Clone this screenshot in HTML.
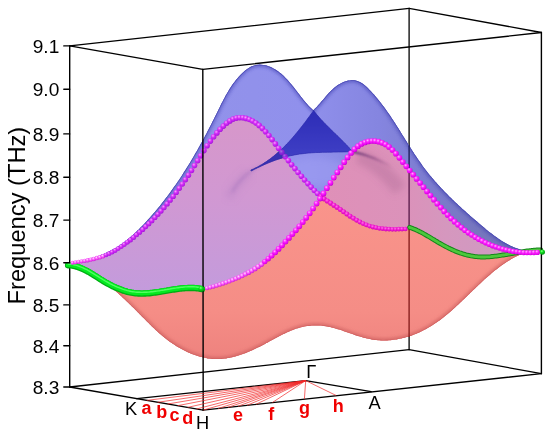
<!DOCTYPE html>
<html><head><meta charset="utf-8"><title>Phonon dispersion</title>
<style>
html,body{margin:0;padding:0;background:#fff}
svg{display:block}
text{font-family:"Liberation Sans",Arial,sans-serif}
</style></head><body>
<svg width="550" height="436" viewBox="0 0 550 436">
<defs>
<radialGradient id="ms" cx="0.38" cy="0.32" r="0.75"><stop offset="0" stop-color="#ffb8ff"/><stop offset="0.35" stop-color="#ff28ff"/><stop offset="0.8" stop-color="#e000ea"/><stop offset="1" stop-color="#b000c0"/></radialGradient>
<radialGradient id="mv" cx="0.38" cy="0.32" r="0.75"><stop offset="0" stop-color="#f8a0ff"/><stop offset="0.4" stop-color="#d630f6"/><stop offset="0.8" stop-color="#b418e6"/><stop offset="1" stop-color="#9010cc"/></radialGradient>
<radialGradient id="mw" cx="0.4" cy="0.35" r="0.7"><stop offset="0" stop-color="#ffd8ff"/><stop offset="0.5" stop-color="#fa50fa"/><stop offset="1" stop-color="#c414d0"/></radialGradient>
<radialGradient id="mp" cx="0.4" cy="0.35" r="0.75"><stop offset="0" stop-color="#ff70e8"/><stop offset="0.45" stop-color="#f018d0"/><stop offset="1" stop-color="#c000a8"/></radialGradient>
<radialGradient id="gs" cx="0.38" cy="0.32" r="0.7"><stop offset="0" stop-color="#8cff8c"/><stop offset="0.4" stop-color="#10e020"/><stop offset="1" stop-color="#009010"/></radialGradient>
<linearGradient id="gBlue" gradientUnits="userSpaceOnUse" x1="70" y1="0" x2="545" y2="0"><stop offset="0" stop-color="#9894e6"/><stop offset="0.27" stop-color="#9292ea"/><stop offset="0.5" stop-color="#9090ec"/><stop offset="0.65" stop-color="#8585e0"/><stop offset="0.76" stop-color="#7c7cce"/><stop offset="0.86" stop-color="#7676be"/><stop offset="1" stop-color="#7474b6"/></linearGradient>
<linearGradient id="gPurple" gradientUnits="userSpaceOnUse" x1="0" y1="117" x2="0" y2="293"><stop offset="0" stop-color="#d797ca"/><stop offset="0.45" stop-color="#d198d2"/><stop offset="1" stop-color="#c39bdc"/></linearGradient>
<linearGradient id="gPink" gradientUnits="userSpaceOnUse" x1="320" y1="0" x2="530" y2="0"><stop offset="0" stop-color="#df90b8"/><stop offset="0.42" stop-color="#db92ba"/><stop offset="0.6" stop-color="#d597be"/><stop offset="1" stop-color="#cc9bc3"/></linearGradient>
<linearGradient id="gRed" gradientUnits="userSpaceOnUse" x1="0" y1="200" x2="0" y2="360"><stop offset="0" stop-color="#f9948b"/><stop offset="0.7" stop-color="#f58d86"/><stop offset="1" stop-color="#ee827e"/></linearGradient>
<linearGradient id="gDark" gradientUnits="userSpaceOnUse" x1="0" y1="110" x2="0" y2="160"><stop offset="0" stop-color="#3030ba"/><stop offset="0.6" stop-color="#4444cc"/><stop offset="1" stop-color="#5252d4"/></linearGradient>
<linearGradient id="gCrease" gradientUnits="userSpaceOnUse" x1="352" y1="0" x2="393" y2="0"><stop offset="0" stop-color="#4a2068" stop-opacity="0.85"/><stop offset="0.5" stop-color="#6a3070" stop-opacity="0.55"/><stop offset="1" stop-color="#8a4878" stop-opacity="0"/></linearGradient>
<filter id="b1" x="-20%" y="-50%" width="140%" height="200%"><feGaussianBlur stdDeviation="0.8"/></filter>
<filter id="b2" x="-20%" y="-20%" width="140%" height="140%"><feGaussianBlur stdDeviation="1.6"/></filter>
<filter id="b4" x="-30%" y="-30%" width="160%" height="160%"><feGaussianBlur stdDeviation="3.5"/></filter>
<filter id="b8" x="-30%" y="-30%" width="160%" height="160%"><feGaussianBlur stdDeviation="8"/></filter>

<clipPath id="cBlue"><path d="M68.5,263.5 L70.2,263.1 L71.9,262.6 L73.6,262.2 L75.3,261.8 L77.1,261.4 L78.8,261.0 L80.6,260.6 L82.4,260.2 L84.2,259.8 L85.9,259.4 L87.7,258.9 L89.5,258.5 L91.3,258.0 L93.0,257.5 L94.8,257.0 L96.5,256.4 L98.3,255.9 L100.0,255.3 L101.7,254.6 L103.4,254.0 L105.1,253.3 L106.7,252.5 L108.4,251.8 L110.0,251.0 L111.6,250.1 L113.1,249.3 L114.7,248.4 L116.2,247.5 L117.8,246.5 L119.3,245.5 L120.7,244.5 L122.2,243.5 L123.7,242.4 L125.1,241.3 L126.5,240.2 L128.0,239.1 L129.3,237.9 L130.7,236.8 L132.1,235.6 L133.5,234.4 L134.8,233.1 L136.1,231.9 L137.4,230.6 L138.8,229.4 L140.0,228.1 L141.3,226.8 L142.6,225.5 L143.9,224.2 L145.1,222.8 L146.4,221.5 L147.6,220.1 L148.8,218.8 L150.0,217.4 L151.2,216.1 L152.4,214.7 L153.6,213.3 L154.8,211.9 L156.0,210.6 L157.1,209.2 L158.3,207.8 L159.4,206.4 L160.6,205.0 L161.7,203.5 L162.8,202.1 L163.9,200.7 L165.0,199.3 L166.1,197.8 L167.2,196.4 L168.3,194.9 L169.4,193.5 L170.5,192.0 L171.5,190.6 L172.6,189.1 L173.6,187.6 L174.7,186.1 L175.7,184.7 L176.7,183.2 L177.7,181.7 L178.8,180.2 L179.8,178.7 L180.8,177.2 L181.8,175.7 L182.7,174.2 L183.7,172.6 L184.7,171.1 L185.7,169.6 L186.6,168.1 L187.6,166.5 L188.5,165.0 L189.5,163.4 L190.4,161.9 L191.4,160.3 L192.3,158.8 L193.2,157.2 L194.1,155.7 L195.0,154.1 L195.9,152.5 L196.9,151.0 L197.7,149.4 L198.6,147.8 L199.5,146.2 L200.4,144.6 L201.3,143.0 L202.2,141.5 L203.0,139.9 L203.9,138.3 L204.7,136.7 L205.6,135.1 L206.5,133.4 L207.3,131.8 L208.1,130.2 L209.0,128.6 L209.8,127.0 L210.6,125.4 L211.5,123.7 L212.3,122.1 L213.1,120.5 L213.9,118.9 L214.7,117.2 L215.6,115.6 L216.4,113.9 L217.2,112.3 L218.0,110.7 L218.8,109.0 L219.6,107.4 L220.4,105.8 L221.2,104.1 L222.0,102.5 L222.9,100.9 L223.7,99.3 L224.6,97.7 L225.4,96.1 L226.3,94.5 L227.2,92.9 L228.1,91.4 L229.1,89.8 L230.0,88.3 L231.0,86.8 L232.0,85.3 L233.0,83.8 L234.1,82.4 L235.2,81.0 L236.3,79.6 L237.5,78.2 L238.7,76.8 L239.9,75.5 L241.1,74.2 L242.4,72.9 L243.8,71.7 L245.1,70.5 L246.5,69.4 L248.0,68.4 L249.5,67.4 L251.1,66.6 L252.7,65.9 L254.3,65.4 L256.0,65.0 L257.8,64.7 L259.6,64.6 L261.4,64.7 L263.2,64.9 L265.0,65.2 L266.7,65.6 L268.4,66.2 L270.1,66.8 L271.8,67.6 L273.4,68.4 L275.0,69.3 L276.5,70.3 L278.1,71.3 L279.5,72.4 L281.0,73.6 L282.4,74.8 L283.8,76.1 L285.1,77.4 L286.4,78.7 L287.7,80.1 L288.9,81.5 L290.1,82.9 L291.3,84.3 L292.5,85.7 L293.6,87.1 L294.7,88.5 L295.8,89.9 L296.9,91.3 L297.9,92.7 L299.0,94.1 L300.1,95.5 L301.2,96.9 L302.3,98.3 L303.4,99.7 L304.5,101.1 L305.7,102.5 L306.9,103.8 L308.1,105.2 L309.3,106.5 L310.6,107.8 L312.0,109.1 L313.4,110.4 L313.4,110.2 L314.5,109.1 L315.6,108.0 L316.7,106.9 L317.7,105.7 L318.8,104.6 L319.8,103.4 L320.8,102.2 L321.8,101.1 L322.8,99.9 L323.9,98.7 L324.9,97.5 L325.9,96.2 L327.0,95.0 L328.1,93.8 L329.2,92.6 L330.3,91.4 L331.5,90.3 L332.7,89.2 L333.9,88.1 L335.2,87.0 L336.5,86.0 L337.8,85.1 L339.2,84.2 L340.6,83.4 L342.0,82.7 L343.5,82.0 L345.0,81.4 L346.6,81.0 L348.1,80.6 L349.7,80.4 L351.2,80.2 L352.8,80.2 L354.3,80.3 L355.8,80.6 L357.2,81.0 L358.6,81.5 L359.9,82.1 L361.2,82.8 L362.5,83.6 L363.8,84.5 L365.0,85.5 L366.2,86.5 L367.3,87.6 L368.5,88.7 L369.6,89.9 L370.7,91.0 L371.8,92.2 L372.9,93.4 L374.0,94.6 L375.0,95.8 L376.0,97.0 L377.1,98.2 L378.1,99.5 L379.1,100.7 L380.1,101.9 L381.1,103.2 L382.0,104.5 L383.0,105.7 L384.0,107.0 L384.9,108.3 L385.8,109.6 L386.8,110.9 L387.7,112.2 L388.6,113.5 L389.5,114.8 L390.4,116.1 L391.3,117.4 L392.1,118.8 L393.0,120.1 L393.9,121.4 L394.8,122.8 L395.6,124.1 L396.5,125.4 L397.3,126.8 L398.2,128.1 L399.0,129.5 L399.9,130.8 L400.7,132.2 L401.5,133.5 L402.4,134.9 L403.2,136.2 L404.1,137.6 L404.9,138.9 L405.7,140.3 L406.6,141.6 L407.4,143.0 L408.3,144.3 L409.1,145.7 L410.0,147.0 L410.8,148.3 L411.7,149.7 L412.5,151.0 L413.4,152.3 L414.2,153.7 L415.1,155.0 L416.0,156.3 L416.9,157.6 L417.8,158.9 L418.7,160.2 L419.6,161.5 L420.5,162.8 L421.4,164.1 L422.3,165.4 L423.2,166.7 L424.2,167.9 L425.1,169.2 L426.1,170.4 L427.1,171.7 L428.0,172.9 L429.0,174.2 L430.0,175.4 L431.0,176.6 L432.0,177.8 L433.1,179.0 L434.1,180.2 L435.1,181.4 L436.2,182.6 L437.2,183.8 L438.3,184.9 L439.3,186.1 L440.4,187.3 L441.5,188.4 L442.6,189.6 L443.7,190.7 L444.8,191.9 L445.9,193.0 L447.0,194.1 L448.1,195.2 L449.2,196.4 L450.4,197.5 L451.5,198.6 L452.6,199.7 L453.8,200.8 L454.9,201.9 L456.1,203.0 L457.3,204.1 L458.4,205.2 L459.6,206.3 L460.8,207.3 L461.9,208.4 L463.1,209.5 L464.3,210.6 L465.5,211.6 L466.7,212.7 L467.9,213.7 L469.1,214.8 L470.3,215.9 L471.5,216.9 L472.7,218.0 L473.9,219.0 L475.1,220.1 L476.3,221.1 L477.6,222.1 L478.8,223.2 L480.0,224.2 L481.2,225.2 L482.4,226.3 L483.7,227.3 L484.9,228.3 L486.1,229.4 L487.4,230.4 L488.6,231.4 L489.9,232.4 L491.1,233.3 L492.4,234.3 L493.6,235.3 L494.9,236.2 L496.2,237.1 L497.5,238.0 L498.8,238.9 L500.1,239.8 L501.4,240.7 L502.7,241.5 L504.0,242.3 L505.4,243.1 L506.7,243.8 L508.1,244.6 L509.5,245.3 L510.9,245.9 L512.3,246.6 L513.7,247.2 L515.1,247.8 L516.6,248.3 L518.1,248.8 L519.5,249.3 L521.0,249.8 L522.6,250.2 L524.1,250.5 L525.6,250.8 L527.2,251.1 L528.8,251.4 L530.4,251.5 L532.0,251.7 L533.7,251.8 L535.3,251.8 L537.0,251.9 L538.7,251.8 L540.5,251.7 L542.2,251.6 L539.2,252.2 L538.1,252.3 L536.9,252.4 L535.8,252.5 L534.7,252.6 L533.6,252.6 L532.4,252.7 L531.3,252.7 L530.2,252.7 L529.1,252.7 L528.0,252.7 L526.8,252.7 L525.7,252.7 L524.6,252.6 L523.5,252.6 L522.4,252.5 L521.3,252.4 L520.2,252.3 L519.1,252.2 L518.0,252.1 L516.9,252.0 L515.8,251.8 L514.7,251.6 L513.6,251.5 L512.5,251.3 L511.4,251.1 L510.3,250.9 L509.2,250.7 L508.2,250.4 L507.1,250.2 L506.0,249.9 L504.9,249.7 L503.9,249.4 L502.8,249.1 L501.7,248.8 L500.7,248.5 L499.6,248.1 L498.6,247.8 L497.5,247.5 L496.5,247.1 L495.4,246.7 L494.4,246.4 L493.4,246.0 L492.3,245.6 L491.3,245.2 L490.3,244.7 L489.3,244.3 L488.2,243.9 L487.2,243.4 L486.2,243.0 L485.2,242.5 L484.2,242.0 L483.2,241.5 L482.2,241.0 L481.3,240.5 L480.3,240.0 L479.3,239.5 L478.3,238.9 L477.4,238.4 L476.4,237.8 L475.4,237.3 L474.5,236.7 L473.6,236.1 L472.6,235.5 L471.7,234.9 L470.7,234.3 L469.8,233.7 L468.9,233.1 L468.0,232.4 L467.1,231.8 L466.2,231.1 L465.3,230.5 L464.4,229.8 L463.5,229.2 L462.6,228.5 L461.7,227.8 L460.9,227.1 L460.0,226.4 L459.2,225.7 L458.3,225.0 L457.5,224.2 L456.6,223.5 L455.8,222.8 L455.0,222.0 L454.2,221.3 L453.3,220.5 L452.5,219.8 L451.7,219.0 L450.9,218.2 L450.1,217.5 L449.3,216.7 L448.6,215.9 L447.8,215.1 L447.0,214.3 L446.2,213.5 L445.5,212.7 L444.7,211.9 L443.9,211.1 L443.2,210.2 L442.4,209.4 L441.7,208.6 L440.9,207.8 L440.2,206.9 L439.4,206.1 L438.7,205.3 L438.0,204.4 L437.3,203.6 L436.5,202.8 L435.8,201.9 L435.1,201.1 L434.4,200.2 L433.6,199.4 L432.9,198.5 L432.2,197.7 L431.5,196.8 L430.8,196.0 L430.1,195.1 L429.4,194.3 L428.7,193.4 L428.0,192.6 L427.3,191.7 L426.6,190.9 L425.9,190.0 L425.2,189.2 L424.5,188.3 L423.8,187.5 L423.1,186.6 L422.4,185.8 L421.7,184.9 L421.0,184.1 L420.3,183.2 L419.6,182.4 L418.9,181.6 L418.2,180.7 L417.5,179.9 L416.8,179.0 L416.1,178.2 L415.4,177.4 L414.7,176.5 L414.0,175.7 L413.3,174.8 L412.6,174.0 L411.9,173.2 L411.2,172.3 L410.5,171.5 L409.8,170.6 L409.1,169.8 L408.4,168.9 L407.7,168.0 L407.0,167.2 L406.3,166.3 L405.6,165.4 L404.9,164.6 L404.1,163.7 L403.4,162.8 L402.7,161.9 L402.0,161.0 L401.3,160.1 L400.5,159.2 L399.8,158.3 L399.1,157.4 L398.4,156.5 L397.6,155.6 L396.9,154.7 L396.1,153.9 L395.3,153.0 L394.6,152.1 L393.8,151.3 L393.0,150.5 L392.2,149.7 L391.4,148.9 L390.5,148.2 L389.7,147.5 L388.8,146.8 L388.0,146.1 L387.1,145.5 L386.2,144.9 L385.3,144.3 L384.3,143.8 L383.3,143.3 L382.4,142.9 L381.4,142.5 L380.3,142.1 L379.3,141.8 L378.3,141.6 L377.2,141.4 L376.1,141.2 L375.1,141.1 L374.0,141.0 L372.9,141.0 L371.8,141.0 L370.8,141.1 L369.7,141.2 L368.6,141.4 L367.6,141.6 L366.6,141.8 L365.6,142.1 L364.6,142.5 L363.6,142.9 L362.7,143.3 L361.7,143.8 L360.8,144.3 L359.9,144.9 L359.0,145.5 L358.2,146.1 L357.3,146.7 L356.5,147.4 L355.7,148.1 L354.9,148.9 L354.1,149.7 L353.3,150.5 L352.6,151.3 L351.8,152.1 L351.1,153.0 L350.4,153.9 L349.7,154.8 L348.9,155.7 L348.3,156.6 L347.6,157.5 L346.9,158.4 L346.2,159.4 L345.5,160.3 L344.9,161.3 L344.2,162.2 L343.5,163.2 L342.9,164.1 L342.2,165.1 L341.6,166.0 L340.9,167.0 L340.3,167.9 L339.7,168.8 L339.0,169.8 L338.4,170.7 L337.8,171.7 L337.2,172.6 L336.5,173.6 L335.9,174.5 L335.3,175.4 L334.7,176.4 L334.1,177.3 L333.4,178.2 L332.8,179.2 L332.2,180.1 L331.6,181.0 L331.0,182.0 L330.4,182.9 L329.8,183.8 L329.2,184.7 L328.6,185.7 L328.0,186.6 L327.4,187.5 L326.8,188.4 L326.2,189.4 L325.6,190.3 L325.0,191.2 L324.4,192.1 L323.8,193.0 L323.2,193.9 L322.5,194.9 L321.9,195.8 L321.3,196.7 L321.5,196.9 L320.7,196.2 L319.8,195.5 L319.0,194.7 L318.1,194.0 L317.3,193.2 L316.4,192.5 L315.6,191.7 L314.8,190.9 L314.0,190.1 L313.2,189.3 L312.4,188.5 L311.6,187.7 L310.8,186.8 L310.1,186.0 L309.3,185.2 L308.5,184.4 L307.8,183.5 L307.0,182.7 L306.3,181.9 L305.5,181.0 L304.8,180.2 L304.1,179.4 L303.3,178.5 L302.6,177.7 L301.9,176.9 L301.2,176.1 L300.4,175.2 L299.7,174.4 L299.0,173.6 L298.3,172.7 L297.6,171.9 L296.9,171.1 L296.2,170.2 L295.5,169.4 L294.8,168.6 L294.1,167.7 L293.4,166.9 L292.7,166.0 L292.0,165.2 L291.3,164.3 L290.6,163.5 L290.0,162.7 L289.3,161.8 L288.6,160.9 L287.9,160.1 L287.2,159.2 L286.5,158.4 L285.9,157.5 L285.2,156.6 L284.5,155.8 L283.8,154.9 L283.1,154.0 L282.4,153.1 L281.7,152.2 L281.1,151.4 L280.4,150.5 L279.7,149.6 L279.0,148.7 L278.3,147.8 L277.6,146.9 L276.9,145.9 L276.2,145.0 L275.5,144.1 L274.8,143.2 L274.1,142.2 L273.4,141.3 L272.7,140.4 L272.0,139.5 L271.3,138.5 L270.5,137.6 L269.8,136.7 L269.1,135.8 L268.3,134.9 L267.6,134.0 L266.8,133.1 L266.1,132.3 L265.3,131.4 L264.5,130.6 L263.7,129.8 L262.9,128.9 L262.1,128.2 L261.3,127.4 L260.5,126.6 L259.7,125.9 L258.8,125.2 L258.0,124.5 L257.1,123.8 L256.2,123.2 L255.3,122.6 L254.4,122.0 L253.5,121.5 L252.6,121.0 L251.7,120.5 L250.7,120.0 L249.7,119.6 L248.8,119.2 L247.8,118.9 L246.7,118.6 L245.7,118.3 L244.7,118.1 L243.6,117.9 L242.6,117.8 L241.5,117.7 L240.5,117.7 L239.4,117.7 L238.4,117.8 L237.3,117.9 L236.3,118.1 L235.3,118.4 L234.3,118.7 L233.3,119.1 L232.3,119.5 L231.4,120.0 L230.4,120.5 L229.5,121.1 L228.6,121.7 L227.7,122.4 L226.8,123.1 L225.9,123.8 L225.0,124.5 L224.2,125.3 L223.3,126.1 L222.5,126.9 L221.7,127.7 L220.9,128.5 L220.1,129.3 L219.3,130.1 L218.5,131.0 L217.8,131.8 L217.0,132.7 L216.3,133.5 L215.6,134.4 L214.8,135.2 L214.1,136.1 L213.4,137.0 L212.7,137.9 L212.1,138.8 L211.4,139.7 L210.7,140.6 L210.1,141.5 L209.4,142.4 L208.8,143.3 L208.1,144.2 L207.5,145.1 L206.8,146.1 L206.2,147.0 L205.6,147.9 L205.0,148.8 L204.4,149.8 L203.8,150.7 L203.2,151.7 L202.6,152.6 L202.0,153.6 L201.4,154.5 L200.8,155.5 L200.2,156.4 L199.6,157.4 L199.0,158.3 L198.4,159.3 L197.8,160.2 L197.3,161.2 L196.7,162.1 L196.1,163.1 L195.5,164.0 L194.9,165.0 L194.3,165.9 L193.7,166.9 L193.1,167.8 L192.5,168.8 L191.9,169.7 L191.3,170.7 L190.7,171.6 L190.1,172.5 L189.5,173.5 L188.9,174.4 L188.3,175.4 L187.7,176.3 L187.0,177.2 L186.4,178.1 L185.8,179.1 L185.2,180.0 L184.5,180.9 L183.9,181.8 L183.3,182.7 L182.6,183.7 L182.0,184.6 L181.3,185.5 L180.7,186.4 L180.0,187.3 L179.4,188.2 L178.7,189.1 L178.0,190.0 L177.4,190.9 L176.7,191.8 L176.0,192.7 L175.3,193.6 L174.7,194.4 L174.0,195.3 L173.3,196.2 L172.6,197.1 L171.9,198.0 L171.2,198.8 L170.5,199.7 L169.8,200.6 L169.1,201.4 L168.4,202.3 L167.7,203.2 L167.0,204.0 L166.3,204.9 L165.5,205.7 L164.8,206.6 L164.1,207.4 L163.3,208.2 L162.6,209.1 L161.9,209.9 L161.1,210.8 L160.4,211.6 L159.6,212.4 L158.9,213.2 L158.1,214.1 L157.4,214.9 L156.6,215.7 L155.8,216.5 L155.1,217.3 L154.3,218.1 L153.5,218.9 L152.8,219.7 L152.0,220.5 L151.2,221.3 L150.4,222.1 L149.6,222.9 L148.8,223.6 L148.0,224.4 L147.2,225.2 L146.4,226.0 L145.6,226.7 L144.8,227.5 L144.0,228.2 L143.1,229.0 L142.3,229.8 L141.5,230.5 L140.7,231.2 L139.8,232.0 L139.0,232.7 L138.2,233.5 L137.3,234.2 L136.5,234.9 L135.6,235.6 L134.7,236.4 L133.9,237.1 L133.0,237.8 L132.2,238.5 L131.3,239.2 L130.4,239.9 L129.5,240.6 L128.7,241.3 L127.8,242.0 L126.9,242.6 L126.0,243.3 L125.1,244.0 L124.2,244.6 L123.3,245.3 L122.4,245.9 L121.4,246.5 L120.5,247.2 L119.6,247.8 L118.7,248.4 L117.7,249.0 L116.8,249.5 L115.8,250.1 L114.9,250.7 L113.9,251.2 L112.9,251.8 L111.9,252.3 L111.0,252.8 L110.0,253.3 L109.0,253.8 L108.0,254.2 L106.9,254.7 L105.9,255.1 L104.9,255.5 L103.9,255.9 L102.8,256.3 L101.8,256.7 L100.7,257.0 L99.6,257.4 L98.6,257.7 L97.5,258.0 L96.4,258.3 L95.3,258.6 L94.2,258.8 L93.1,259.1 L92.0,259.4 L90.9,259.6 L89.8,259.8 L88.7,260.0 L87.6,260.3 L86.5,260.5 L85.4,260.7 L84.3,260.9 L83.2,261.1 L82.1,261.3 L81.0,261.4 L79.8,261.6 L78.7,261.8 L77.6,262.0 L76.5,262.1 L75.4,262.3 L74.4,262.5 L73.3,262.7 L72.2,262.9 L71.1,263.0 L70.0,263.2Z"/></clipPath>
<clipPath id="cPurple"><path d="M70.0,263.2 L71.1,263.0 L72.2,262.9 L73.3,262.7 L74.4,262.5 L75.4,262.3 L76.5,262.1 L77.6,262.0 L78.7,261.8 L79.8,261.6 L81.0,261.4 L82.1,261.3 L83.2,261.1 L84.3,260.9 L85.4,260.7 L86.5,260.5 L87.6,260.3 L88.7,260.0 L89.8,259.8 L90.9,259.6 L92.0,259.4 L93.1,259.1 L94.2,258.8 L95.3,258.6 L96.4,258.3 L97.5,258.0 L98.6,257.7 L99.6,257.4 L100.7,257.0 L101.8,256.7 L102.8,256.3 L103.9,255.9 L104.9,255.5 L105.9,255.1 L106.9,254.7 L108.0,254.2 L109.0,253.8 L110.0,253.3 L111.0,252.8 L111.9,252.3 L112.9,251.8 L113.9,251.2 L114.9,250.7 L115.8,250.1 L116.8,249.5 L117.7,249.0 L118.7,248.4 L119.6,247.8 L120.5,247.2 L121.4,246.5 L122.4,245.9 L123.3,245.3 L124.2,244.6 L125.1,244.0 L126.0,243.3 L126.9,242.6 L127.8,242.0 L128.7,241.3 L129.5,240.6 L130.4,239.9 L131.3,239.2 L132.2,238.5 L133.0,237.8 L133.9,237.1 L134.7,236.4 L135.6,235.6 L136.5,234.9 L137.3,234.2 L138.2,233.5 L139.0,232.7 L139.8,232.0 L140.7,231.2 L141.5,230.5 L142.3,229.8 L143.1,229.0 L144.0,228.2 L144.8,227.5 L145.6,226.7 L146.4,226.0 L147.2,225.2 L148.0,224.4 L148.8,223.6 L149.6,222.9 L150.4,222.1 L151.2,221.3 L152.0,220.5 L152.8,219.7 L153.5,218.9 L154.3,218.1 L155.1,217.3 L155.8,216.5 L156.6,215.7 L157.4,214.9 L158.1,214.1 L158.9,213.2 L159.6,212.4 L160.4,211.6 L161.1,210.8 L161.9,209.9 L162.6,209.1 L163.3,208.2 L164.1,207.4 L164.8,206.6 L165.5,205.7 L166.3,204.9 L167.0,204.0 L167.7,203.2 L168.4,202.3 L169.1,201.4 L169.8,200.6 L170.5,199.7 L171.2,198.8 L171.9,198.0 L172.6,197.1 L173.3,196.2 L174.0,195.3 L174.7,194.4 L175.3,193.6 L176.0,192.7 L176.7,191.8 L177.4,190.9 L178.0,190.0 L178.7,189.1 L179.4,188.2 L180.0,187.3 L180.7,186.4 L181.3,185.5 L182.0,184.6 L182.6,183.7 L183.3,182.7 L183.9,181.8 L184.5,180.9 L185.2,180.0 L185.8,179.1 L186.4,178.1 L187.0,177.2 L187.7,176.3 L188.3,175.4 L188.9,174.4 L189.5,173.5 L190.1,172.5 L190.7,171.6 L191.3,170.7 L191.9,169.7 L192.5,168.8 L193.1,167.8 L193.7,166.9 L194.3,165.9 L194.9,165.0 L195.5,164.0 L196.1,163.1 L196.7,162.1 L197.3,161.2 L197.8,160.2 L198.4,159.3 L199.0,158.3 L199.6,157.4 L200.2,156.4 L200.8,155.5 L201.4,154.5 L202.0,153.6 L202.6,152.6 L203.2,151.7 L203.8,150.7 L204.4,149.8 L205.0,148.8 L205.6,147.9 L206.2,147.0 L206.8,146.1 L207.5,145.1 L208.1,144.2 L208.8,143.3 L209.4,142.4 L210.1,141.5 L210.7,140.6 L211.4,139.7 L212.1,138.8 L212.7,137.9 L213.4,137.0 L214.1,136.1 L214.8,135.2 L215.6,134.4 L216.3,133.5 L217.0,132.7 L217.8,131.8 L218.5,131.0 L219.3,130.1 L220.1,129.3 L220.9,128.5 L221.7,127.7 L222.5,126.9 L223.3,126.1 L224.2,125.3 L225.0,124.5 L225.9,123.8 L226.8,123.1 L227.7,122.4 L228.6,121.7 L229.5,121.1 L230.4,120.5 L231.4,120.0 L232.3,119.5 L233.3,119.1 L234.3,118.7 L235.3,118.4 L236.3,118.1 L237.3,117.9 L238.4,117.8 L239.4,117.7 L240.5,117.7 L241.5,117.7 L242.6,117.8 L243.6,117.9 L244.7,118.1 L245.7,118.3 L246.7,118.6 L247.8,118.9 L248.8,119.2 L249.7,119.6 L250.7,120.0 L251.7,120.5 L252.6,121.0 L253.5,121.5 L254.4,122.0 L255.3,122.6 L256.2,123.2 L257.1,123.8 L258.0,124.5 L258.8,125.2 L259.7,125.9 L260.5,126.6 L261.3,127.4 L262.1,128.2 L262.9,128.9 L263.7,129.8 L264.5,130.6 L265.3,131.4 L266.1,132.3 L266.8,133.1 L267.6,134.0 L268.3,134.9 L269.1,135.8 L269.8,136.7 L270.5,137.6 L271.3,138.5 L272.0,139.5 L272.7,140.4 L273.4,141.3 L274.1,142.2 L274.8,143.2 L275.5,144.1 L276.2,145.0 L276.9,145.9 L277.6,146.9 L278.3,147.8 L279.0,148.7 L279.7,149.6 L280.4,150.5 L281.1,151.4 L281.7,152.2 L282.4,153.1 L283.1,154.0 L283.8,154.9 L284.5,155.8 L285.2,156.6 L285.9,157.5 L286.5,158.4 L287.2,159.2 L287.9,160.1 L288.6,160.9 L289.3,161.8 L290.0,162.7 L290.6,163.5 L291.3,164.3 L292.0,165.2 L292.7,166.0 L293.4,166.9 L294.1,167.7 L294.8,168.6 L295.5,169.4 L296.2,170.2 L296.9,171.1 L297.6,171.9 L298.3,172.7 L299.0,173.6 L299.7,174.4 L300.4,175.2 L301.2,176.1 L301.9,176.9 L302.6,177.7 L303.3,178.5 L304.1,179.4 L304.8,180.2 L305.5,181.0 L306.3,181.9 L307.0,182.7 L307.8,183.5 L308.5,184.4 L309.3,185.2 L310.1,186.0 L310.8,186.8 L311.6,187.7 L312.4,188.5 L313.2,189.3 L314.0,190.1 L314.8,190.9 L315.6,191.7 L316.4,192.5 L317.3,193.2 L318.1,194.0 L319.0,194.7 L319.8,195.5 L320.7,196.2 L321.5,196.9 L321.3,196.7 L320.7,197.6 L320.1,198.5 L319.5,199.4 L318.9,200.3 L318.3,201.2 L317.7,202.1 L317.0,203.0 L316.4,203.9 L315.8,204.8 L315.2,205.7 L314.5,206.6 L313.9,207.5 L313.3,208.4 L312.6,209.3 L312.0,210.1 L311.3,211.0 L310.7,211.9 L310.0,212.8 L309.4,213.7 L308.7,214.6 L308.1,215.4 L307.4,216.3 L306.7,217.2 L306.0,218.1 L305.4,218.9 L304.7,219.8 L304.0,220.7 L303.3,221.5 L302.6,222.4 L301.9,223.2 L301.2,224.1 L300.5,225.0 L299.7,225.8 L299.0,226.7 L298.3,227.5 L297.6,228.4 L296.8,229.2 L296.1,230.1 L295.3,230.9 L294.6,231.7 L293.9,232.6 L293.1,233.4 L292.4,234.3 L291.6,235.1 L290.8,235.9 L290.1,236.8 L289.3,237.6 L288.6,238.4 L287.8,239.2 L287.0,240.1 L286.3,240.9 L285.5,241.7 L284.7,242.5 L284.0,243.3 L283.2,244.1 L282.4,244.9 L281.7,245.7 L280.9,246.6 L280.1,247.4 L279.3,248.2 L278.6,248.9 L277.8,249.7 L277.0,250.5 L276.2,251.3 L275.4,252.1 L274.6,252.9 L273.9,253.6 L273.1,254.4 L272.3,255.1 L271.5,255.9 L270.6,256.6 L269.8,257.4 L269.0,258.1 L268.2,258.8 L267.4,259.6 L266.5,260.3 L265.7,261.0 L264.8,261.7 L264.0,262.3 L263.1,263.0 L262.2,263.7 L261.3,264.3 L260.4,265.0 L259.6,265.6 L258.6,266.2 L257.7,266.9 L256.8,267.5 L255.9,268.1 L255.0,268.7 L254.0,269.3 L253.1,269.8 L252.1,270.4 L251.2,271.0 L250.2,271.5 L249.3,272.1 L248.3,272.6 L247.3,273.1 L246.3,273.6 L245.3,274.2 L244.4,274.7 L243.4,275.2 L242.4,275.6 L241.4,276.1 L240.3,276.6 L239.3,277.1 L238.3,277.5 L237.3,278.0 L236.3,278.4 L235.2,278.9 L234.2,279.3 L233.2,279.7 L232.1,280.1 L231.1,280.5 L230.1,280.9 L229.0,281.3 L228.0,281.7 L226.9,282.1 L225.9,282.5 L224.8,282.8 L223.8,283.2 L222.7,283.5 L221.6,283.9 L220.6,284.2 L219.5,284.6 L218.5,284.9 L217.4,285.2 L216.3,285.5 L215.3,285.9 L214.2,286.2 L213.1,286.5 L212.1,286.8 L211.0,287.0 L210.0,287.3 L208.9,287.6 L207.8,287.9 L206.8,288.1 L205.7,288.4 L204.6,288.7 L203.6,288.9 L202.1,289.1 L200.7,288.8 L199.4,288.6 L198.0,288.4 L196.6,288.2 L195.2,288.1 L193.8,288.0 L192.5,288.0 L191.1,288.0 L189.6,288.0 L188.2,288.0 L186.8,288.1 L185.4,288.1 L184.0,288.2 L182.6,288.4 L181.1,288.5 L179.7,288.7 L178.3,288.9 L176.8,289.1 L175.4,289.3 L174.0,289.5 L172.5,289.7 L171.1,289.9 L169.6,290.2 L168.2,290.4 L166.8,290.7 L165.3,290.9 L163.9,291.2 L162.4,291.4 L161.0,291.6 L159.6,291.9 L158.1,292.1 L156.7,292.3 L155.3,292.5 L153.8,292.7 L152.4,292.9 L151.0,293.0 L149.5,293.2 L148.1,293.3 L146.7,293.4 L145.3,293.5 L143.9,293.5 L142.5,293.6 L141.1,293.6 L139.7,293.5 L138.3,293.5 L136.9,293.4 L135.5,293.3 L134.1,293.1 L132.8,292.9 L131.4,292.7 L130.0,292.4 L128.7,292.1 L127.3,291.8 L126.0,291.4 L124.7,291.0 L123.3,290.6 L122.0,290.1 L120.7,289.6 L119.4,289.1 L118.1,288.6 L116.8,288.1 L115.5,287.5 L114.2,286.9 L112.9,286.3 L111.6,285.6 L110.3,285.0 L109.1,284.3 L107.8,283.6 L106.5,282.9 L105.3,282.2 L104.0,281.4 L102.8,280.7 L101.6,279.9 L100.3,279.2 L99.1,278.4 L97.9,277.6 L96.6,276.8 L95.4,276.1 L94.2,275.3 L93.0,274.5 L91.7,273.8 L90.5,273.0 L89.3,272.3 L88.0,271.6 L86.8,270.9 L85.5,270.3 L84.2,269.7 L83.0,269.1 L81.7,268.5 L80.4,268.0 L79.1,267.5 L77.8,267.0 L76.5,266.6 L75.1,266.2 L73.7,265.9 L72.4,265.6 L71.0,265.4 L69.6,265.3 L68.1,265.2Z"/></clipPath>
<clipPath id="cPink"><path d="M321.3,196.7 L321.9,195.8 L322.5,194.9 L323.2,193.9 L323.8,193.0 L324.4,192.1 L325.0,191.2 L325.6,190.3 L326.2,189.4 L326.8,188.4 L327.4,187.5 L328.0,186.6 L328.6,185.7 L329.2,184.7 L329.8,183.8 L330.4,182.9 L331.0,182.0 L331.6,181.0 L332.2,180.1 L332.8,179.2 L333.4,178.2 L334.1,177.3 L334.7,176.4 L335.3,175.4 L335.9,174.5 L336.5,173.6 L337.2,172.6 L337.8,171.7 L338.4,170.7 L339.0,169.8 L339.7,168.8 L340.3,167.9 L340.9,167.0 L341.6,166.0 L342.2,165.1 L342.9,164.1 L343.5,163.2 L344.2,162.2 L344.9,161.3 L345.5,160.3 L346.2,159.4 L346.9,158.4 L347.6,157.5 L348.3,156.6 L348.9,155.7 L349.7,154.8 L350.4,153.9 L351.1,153.0 L351.8,152.1 L352.6,151.3 L353.3,150.5 L354.1,149.7 L354.9,148.9 L355.7,148.1 L356.5,147.4 L357.3,146.7 L358.2,146.1 L359.0,145.5 L359.9,144.9 L360.8,144.3 L361.7,143.8 L362.7,143.3 L363.6,142.9 L364.6,142.5 L365.6,142.1 L366.6,141.8 L367.6,141.6 L368.6,141.4 L369.7,141.2 L370.8,141.1 L371.8,141.0 L372.9,141.0 L374.0,141.0 L375.1,141.1 L376.1,141.2 L377.2,141.4 L378.3,141.6 L379.3,141.8 L380.3,142.1 L381.4,142.5 L382.4,142.9 L383.3,143.3 L384.3,143.8 L385.3,144.3 L386.2,144.9 L387.1,145.5 L388.0,146.1 L388.8,146.8 L389.7,147.5 L390.5,148.2 L391.4,148.9 L392.2,149.7 L393.0,150.5 L393.8,151.3 L394.6,152.1 L395.3,153.0 L396.1,153.9 L396.9,154.7 L397.6,155.6 L398.4,156.5 L399.1,157.4 L399.8,158.3 L400.5,159.2 L401.3,160.1 L402.0,161.0 L402.7,161.9 L403.4,162.8 L404.1,163.7 L404.9,164.6 L405.6,165.4 L406.3,166.3 L407.0,167.2 L407.7,168.0 L408.4,168.9 L409.1,169.8 L409.8,170.6 L410.5,171.5 L411.2,172.3 L411.9,173.2 L412.6,174.0 L413.3,174.8 L414.0,175.7 L414.7,176.5 L415.4,177.4 L416.1,178.2 L416.8,179.0 L417.5,179.9 L418.2,180.7 L418.9,181.6 L419.6,182.4 L420.3,183.2 L421.0,184.1 L421.7,184.9 L422.4,185.8 L423.1,186.6 L423.8,187.5 L424.5,188.3 L425.2,189.2 L425.9,190.0 L426.6,190.9 L427.3,191.7 L428.0,192.6 L428.7,193.4 L429.4,194.3 L430.1,195.1 L430.8,196.0 L431.5,196.8 L432.2,197.7 L432.9,198.5 L433.6,199.4 L434.4,200.2 L435.1,201.1 L435.8,201.9 L436.5,202.8 L437.3,203.6 L438.0,204.4 L438.7,205.3 L439.4,206.1 L440.2,206.9 L440.9,207.8 L441.7,208.6 L442.4,209.4 L443.2,210.2 L443.9,211.1 L444.7,211.9 L445.5,212.7 L446.2,213.5 L447.0,214.3 L447.8,215.1 L448.6,215.9 L449.3,216.7 L450.1,217.5 L450.9,218.2 L451.7,219.0 L452.5,219.8 L453.3,220.5 L454.2,221.3 L455.0,222.0 L455.8,222.8 L456.6,223.5 L457.5,224.2 L458.3,225.0 L459.2,225.7 L460.0,226.4 L460.9,227.1 L461.7,227.8 L462.6,228.5 L463.5,229.2 L464.4,229.8 L465.3,230.5 L466.2,231.1 L467.1,231.8 L468.0,232.4 L468.9,233.1 L469.8,233.7 L470.7,234.3 L471.7,234.9 L472.6,235.5 L473.6,236.1 L474.5,236.7 L475.4,237.3 L476.4,237.8 L477.4,238.4 L478.3,238.9 L479.3,239.5 L480.3,240.0 L481.3,240.5 L482.2,241.0 L483.2,241.5 L484.2,242.0 L485.2,242.5 L486.2,243.0 L487.2,243.4 L488.2,243.9 L489.3,244.3 L490.3,244.7 L491.3,245.2 L492.3,245.6 L493.4,246.0 L494.4,246.4 L495.4,246.7 L496.5,247.1 L497.5,247.5 L498.6,247.8 L499.6,248.1 L500.7,248.5 L501.7,248.8 L502.8,249.1 L503.9,249.4 L504.9,249.7 L506.0,249.9 L507.1,250.2 L508.2,250.4 L509.2,250.7 L510.3,250.9 L511.4,251.1 L512.5,251.3 L513.6,251.5 L514.7,251.6 L515.8,251.8 L516.9,252.0 L518.0,252.1 L519.1,252.2 L520.2,252.3 L521.3,252.4 L522.4,252.5 L523.5,252.6 L524.6,252.6 L525.7,252.7 L526.8,252.7 L528.0,252.7 L529.1,252.7 L530.2,252.7 L531.3,252.7 L532.4,252.7 L533.6,252.6 L534.7,252.6 L535.8,252.5 L536.9,252.4 L538.1,252.3 L539.2,252.2 L540.8,249.9 L539.4,249.9 L538.1,250.0 L536.8,250.0 L535.4,250.1 L534.0,250.2 L532.7,250.3 L531.3,250.5 L529.9,250.6 L528.6,250.8 L527.2,251.0 L525.8,251.2 L524.4,251.4 L523.0,251.6 L521.6,251.8 L520.2,252.0 L518.8,252.3 L517.4,252.5 L516.0,252.8 L514.6,253.0 L513.2,253.3 L511.8,253.5 L510.4,253.8 L509.0,254.0 L507.6,254.3 L506.2,254.5 L504.7,254.8 L503.3,255.0 L501.9,255.2 L500.5,255.5 L499.1,255.7 L497.7,255.9 L496.3,256.1 L494.9,256.2 L493.5,256.4 L492.0,256.5 L490.6,256.7 L489.2,256.8 L487.8,256.8 L486.4,256.9 L485.1,257.0 L483.7,257.0 L482.3,257.0 L480.9,257.0 L479.5,256.9 L478.1,256.8 L476.8,256.7 L475.4,256.6 L474.0,256.4 L472.7,256.2 L471.3,256.0 L470.0,255.7 L468.7,255.4 L467.3,255.1 L466.0,254.8 L464.7,254.4 L463.3,254.0 L462.0,253.6 L460.7,253.1 L459.4,252.7 L458.1,252.2 L456.8,251.7 L455.5,251.2 L454.2,250.6 L452.9,250.1 L451.7,249.5 L450.4,248.9 L449.1,248.3 L447.9,247.7 L446.6,247.0 L445.3,246.3 L444.1,245.7 L442.8,245.0 L441.6,244.3 L440.4,243.6 L439.1,242.9 L437.9,242.2 L436.7,241.4 L435.5,240.7 L434.2,239.9 L433.0,239.2 L431.8,238.5 L430.6,237.7 L429.4,237.0 L428.2,236.3 L426.9,235.6 L425.7,234.9 L424.5,234.2 L423.3,233.5 L422.1,232.8 L420.8,232.2 L419.6,231.6 L418.4,230.9 L417.1,230.4 L415.9,229.8 L414.6,229.3 L413.3,228.8 L412.1,228.3 L410.8,227.8 L409.5,227.4 L408.5,228.8 L407.5,228.8 L406.4,228.9 L405.3,229.0 L404.2,229.0 L403.1,229.1 L402.0,229.1 L400.9,229.2 L399.8,229.2 L398.7,229.2 L397.6,229.3 L396.4,229.3 L395.3,229.3 L394.2,229.3 L393.1,229.3 L391.9,229.3 L390.8,229.2 L389.7,229.2 L388.5,229.2 L387.4,229.1 L386.3,229.0 L385.2,228.9 L384.0,228.8 L382.9,228.7 L381.8,228.6 L380.7,228.5 L379.6,228.3 L378.4,228.1 L377.3,228.0 L376.2,227.8 L375.1,227.5 L374.1,227.3 L373.0,227.0 L371.9,226.8 L370.8,226.5 L369.8,226.1 L368.7,225.8 L367.7,225.4 L366.6,225.0 L365.6,224.6 L364.6,224.2 L363.6,223.8 L362.6,223.3 L361.6,222.9 L360.6,222.4 L359.6,221.9 L358.6,221.3 L357.7,220.8 L356.7,220.3 L355.7,219.7 L354.8,219.2 L353.8,218.6 L352.9,218.0 L351.9,217.4 L351.0,216.8 L350.1,216.2 L349.1,215.6 L348.2,214.9 L347.3,214.3 L346.4,213.7 L345.5,213.1 L344.5,212.4 L343.6,211.8 L342.7,211.1 L341.8,210.5 L340.9,209.9 L340.0,209.2 L339.0,208.6 L338.1,208.0 L337.2,207.4 L336.3,206.8 L335.3,206.1 L334.4,205.5 L333.5,204.9 L332.5,204.4 L331.6,203.8 L330.7,203.2 L329.7,202.6 L328.8,202.0 L327.9,201.4 L327.0,200.8 L326.0,200.1 L325.1,199.5 L324.2,198.9 L323.3,198.2 L322.4,197.6 L321.5,196.9Z"/></clipPath>
<clipPath id="cRed"><path d="M111.6,285.6 L112.9,286.3 L114.2,286.9 L115.5,287.5 L116.8,288.1 L118.1,288.6 L119.4,289.1 L120.7,289.6 L122.0,290.1 L123.3,290.6 L124.7,291.0 L126.0,291.4 L127.3,291.8 L128.7,292.1 L130.0,292.4 L131.4,292.7 L132.8,292.9 L134.1,293.1 L135.5,293.3 L136.9,293.4 L138.3,293.5 L139.7,293.5 L141.1,293.6 L142.5,293.6 L143.9,293.5 L145.3,293.5 L146.7,293.4 L148.1,293.3 L149.5,293.2 L151.0,293.0 L152.4,292.9 L153.8,292.7 L155.3,292.5 L156.7,292.3 L158.1,292.1 L159.6,291.9 L161.0,291.6 L162.4,291.4 L163.9,291.2 L165.3,290.9 L166.8,290.7 L168.2,290.4 L169.6,290.2 L171.1,289.9 L172.5,289.7 L174.0,289.5 L175.4,289.3 L176.8,289.1 L178.3,288.9 L179.7,288.7 L181.1,288.5 L182.6,288.4 L184.0,288.2 L185.4,288.1 L186.8,288.1 L188.2,288.0 L189.6,288.0 L191.1,288.0 L192.5,288.0 L193.8,288.0 L195.2,288.1 L196.6,288.2 L198.0,288.4 L199.4,288.6 L200.7,288.8 L202.1,289.1 L203.6,288.9 L204.6,288.7 L205.7,288.4 L206.8,288.1 L207.8,287.9 L208.9,287.6 L210.0,287.3 L211.0,287.0 L212.1,286.8 L213.1,286.5 L214.2,286.2 L215.3,285.9 L216.3,285.5 L217.4,285.2 L218.5,284.9 L219.5,284.6 L220.6,284.2 L221.6,283.9 L222.7,283.5 L223.8,283.2 L224.8,282.8 L225.9,282.5 L226.9,282.1 L228.0,281.7 L229.0,281.3 L230.1,280.9 L231.1,280.5 L232.1,280.1 L233.2,279.7 L234.2,279.3 L235.2,278.9 L236.3,278.4 L237.3,278.0 L238.3,277.5 L239.3,277.1 L240.3,276.6 L241.4,276.1 L242.4,275.6 L243.4,275.2 L244.4,274.7 L245.3,274.2 L246.3,273.6 L247.3,273.1 L248.3,272.6 L249.3,272.1 L250.2,271.5 L251.2,271.0 L252.1,270.4 L253.1,269.8 L254.0,269.3 L255.0,268.7 L255.9,268.1 L256.8,267.5 L257.7,266.9 L258.6,266.2 L259.6,265.6 L260.4,265.0 L261.3,264.3 L262.2,263.7 L263.1,263.0 L264.0,262.3 L264.8,261.7 L265.7,261.0 L266.5,260.3 L267.4,259.6 L268.2,258.8 L269.0,258.1 L269.8,257.4 L270.6,256.6 L271.5,255.9 L272.3,255.1 L273.1,254.4 L273.9,253.6 L274.6,252.9 L275.4,252.1 L276.2,251.3 L277.0,250.5 L277.8,249.7 L278.6,248.9 L279.3,248.2 L280.1,247.4 L280.9,246.6 L281.7,245.7 L282.4,244.9 L283.2,244.1 L284.0,243.3 L284.7,242.5 L285.5,241.7 L286.3,240.9 L287.0,240.1 L287.8,239.2 L288.6,238.4 L289.3,237.6 L290.1,236.8 L290.8,235.9 L291.6,235.1 L292.4,234.3 L293.1,233.4 L293.9,232.6 L294.6,231.7 L295.3,230.9 L296.1,230.1 L296.8,229.2 L297.6,228.4 L298.3,227.5 L299.0,226.7 L299.7,225.8 L300.5,225.0 L301.2,224.1 L301.9,223.2 L302.6,222.4 L303.3,221.5 L304.0,220.7 L304.7,219.8 L305.4,218.9 L306.0,218.1 L306.7,217.2 L307.4,216.3 L308.1,215.4 L308.7,214.6 L309.4,213.7 L310.0,212.8 L310.7,211.9 L311.3,211.0 L312.0,210.1 L312.6,209.3 L313.3,208.4 L313.9,207.5 L314.5,206.6 L315.2,205.7 L315.8,204.8 L316.4,203.9 L317.0,203.0 L317.7,202.1 L318.3,201.2 L318.9,200.3 L319.5,199.4 L320.1,198.5 L320.7,197.6 L321.3,196.7 L321.5,196.9 L322.4,197.6 L323.3,198.2 L324.2,198.9 L325.1,199.5 L326.0,200.1 L327.0,200.8 L327.9,201.4 L328.8,202.0 L329.7,202.6 L330.7,203.2 L331.6,203.8 L332.5,204.4 L333.5,204.9 L334.4,205.5 L335.3,206.1 L336.3,206.8 L337.2,207.4 L338.1,208.0 L339.0,208.6 L340.0,209.2 L340.9,209.9 L341.8,210.5 L342.7,211.1 L343.6,211.8 L344.5,212.4 L345.5,213.1 L346.4,213.7 L347.3,214.3 L348.2,214.9 L349.1,215.6 L350.1,216.2 L351.0,216.8 L351.9,217.4 L352.9,218.0 L353.8,218.6 L354.8,219.2 L355.7,219.7 L356.7,220.3 L357.7,220.8 L358.6,221.3 L359.6,221.9 L360.6,222.4 L361.6,222.9 L362.6,223.3 L363.6,223.8 L364.6,224.2 L365.6,224.6 L366.6,225.0 L367.7,225.4 L368.7,225.8 L369.8,226.1 L370.8,226.5 L371.9,226.8 L373.0,227.0 L374.1,227.3 L375.1,227.5 L376.2,227.8 L377.3,228.0 L378.4,228.1 L379.6,228.3 L380.7,228.5 L381.8,228.6 L382.9,228.7 L384.0,228.8 L385.2,228.9 L386.3,229.0 L387.4,229.1 L388.5,229.2 L389.7,229.2 L390.8,229.2 L391.9,229.3 L393.1,229.3 L394.2,229.3 L395.3,229.3 L396.4,229.3 L397.6,229.3 L398.7,229.2 L399.8,229.2 L400.9,229.2 L402.0,229.1 L403.1,229.1 L404.2,229.0 L405.3,229.0 L406.4,228.9 L407.5,228.8 L408.5,228.8 L409.5,227.4 L410.8,227.8 L412.1,228.3 L413.3,228.8 L414.6,229.3 L415.9,229.8 L417.1,230.4 L418.4,230.9 L419.6,231.6 L420.8,232.2 L422.1,232.8 L423.3,233.5 L424.5,234.2 L425.7,234.9 L426.9,235.6 L428.2,236.3 L429.4,237.0 L430.6,237.7 L431.8,238.5 L433.0,239.2 L434.2,239.9 L435.5,240.7 L436.7,241.4 L437.9,242.2 L439.1,242.9 L440.4,243.6 L441.6,244.3 L442.8,245.0 L444.1,245.7 L445.3,246.3 L446.6,247.0 L447.9,247.7 L449.1,248.3 L450.4,248.9 L451.7,249.5 L452.9,250.1 L454.2,250.6 L455.5,251.2 L456.8,251.7 L458.1,252.2 L459.4,252.7 L460.7,253.1 L462.0,253.6 L463.3,254.0 L464.7,254.4 L466.0,254.8 L467.3,255.1 L468.7,255.4 L470.0,255.7 L471.3,256.0 L472.7,256.2 L474.0,256.4 L475.4,256.6 L476.8,256.7 L478.1,256.8 L479.5,256.9 L480.9,257.0 L482.3,257.0 L483.7,257.0 L485.1,257.0 L486.4,256.9 L487.8,256.8 L489.2,256.8 L490.6,256.7 L492.0,256.5 L493.5,256.4 L494.9,256.2 L496.3,256.1 L497.7,255.9 L499.1,255.7 L500.5,255.5 L501.9,255.2 L503.3,255.0 L504.7,254.8 L506.2,254.5 L507.6,254.3 L509.0,254.0 L510.4,253.8 L511.8,253.5 L513.2,253.3 L514.6,253.0 L516.0,252.8 L517.4,252.5 L518.8,252.3 L520.2,252.0 L521.6,251.8 L521.7,254.0 L520.2,254.6 L518.8,255.3 L517.4,255.9 L516.0,256.6 L514.6,257.3 L513.2,258.1 L511.8,258.8 L510.5,259.6 L509.2,260.4 L507.8,261.2 L506.5,262.1 L505.2,262.9 L503.9,263.8 L502.6,264.7 L501.4,265.6 L500.1,266.5 L498.8,267.5 L497.6,268.4 L496.3,269.4 L495.1,270.3 L493.9,271.3 L492.7,272.3 L491.5,273.3 L490.3,274.4 L489.1,275.4 L487.9,276.4 L486.7,277.5 L485.5,278.5 L484.3,279.6 L483.1,280.7 L482.0,281.8 L480.8,282.9 L479.7,284.0 L478.5,285.1 L477.3,286.2 L476.2,287.3 L475.0,288.4 L473.9,289.5 L472.7,290.6 L471.6,291.7 L470.4,292.8 L469.3,294.0 L468.1,295.1 L467.0,296.2 L465.8,297.3 L464.7,298.4 L463.5,299.5 L462.4,300.6 L461.2,301.7 L460.0,302.8 L458.9,303.9 L457.7,305.0 L456.5,306.1 L455.3,307.2 L454.2,308.3 L453.0,309.3 L451.8,310.4 L450.6,311.4 L449.4,312.5 L448.2,313.5 L447.0,314.5 L445.7,315.5 L444.5,316.5 L443.3,317.5 L442.0,318.5 L440.8,319.4 L439.5,320.4 L438.2,321.3 L436.9,322.2 L435.6,323.1 L434.3,324.0 L433.0,324.8 L431.7,325.7 L430.3,326.5 L429.0,327.3 L427.6,328.1 L426.3,328.9 L424.9,329.6 L423.5,330.3 L422.1,331.1 L420.6,331.7 L419.2,332.4 L417.8,333.0 L416.3,333.7 L414.8,334.3 L413.4,334.8 L411.9,335.4 L410.4,335.9 L408.9,336.4 L407.4,336.8 L405.9,337.3 L404.3,337.7 L402.8,338.1 L401.3,338.5 L399.7,338.8 L398.2,339.1 L396.6,339.4 L395.1,339.6 L393.5,339.8 L392.0,340.0 L390.4,340.2 L388.8,340.3 L387.3,340.4 L385.7,340.4 L384.1,340.5 L382.6,340.5 L381.0,340.4 L379.4,340.3 L377.9,340.2 L376.3,340.1 L374.7,339.9 L373.2,339.7 L371.6,339.4 L370.1,339.1 L368.5,338.8 L367.0,338.5 L365.4,338.1 L363.9,337.7 L362.3,337.3 L360.8,336.8 L359.2,336.3 L357.7,335.9 L356.2,335.4 L354.6,334.9 L353.1,334.3 L351.6,333.8 L350.0,333.3 L348.5,332.7 L347.0,332.2 L345.5,331.7 L343.9,331.2 L342.4,330.6 L340.9,330.1 L339.4,329.6 L337.8,329.2 L336.3,328.7 L334.8,328.3 L333.2,327.8 L331.7,327.4 L330.2,327.1 L328.6,326.7 L327.1,326.4 L325.6,326.2 L324.0,325.9 L322.5,325.7 L321.0,325.6 L319.4,325.4 L317.9,325.4 L316.3,325.4 L314.8,325.4 L313.2,325.4 L311.7,325.5 L310.1,325.7 L308.6,325.9 L307.1,326.1 L305.5,326.3 L304.0,326.6 L302.5,327.0 L300.9,327.3 L299.4,327.7 L297.9,328.2 L296.4,328.6 L295.0,329.1 L293.5,329.7 L292.0,330.2 L290.6,330.8 L289.1,331.4 L287.7,332.1 L286.2,332.7 L284.8,333.4 L283.4,334.1 L282.0,334.8 L280.5,335.5 L279.1,336.3 L277.7,337.0 L276.3,337.8 L274.9,338.5 L273.5,339.3 L272.1,340.1 L270.6,340.8 L269.2,341.6 L267.8,342.4 L266.3,343.1 L264.9,343.9 L263.5,344.7 L262.0,345.4 L260.6,346.2 L259.1,346.9 L257.6,347.6 L256.2,348.3 L254.7,349.0 L253.2,349.7 L251.7,350.4 L250.2,351.0 L248.8,351.7 L247.3,352.3 L245.8,352.9 L244.3,353.5 L242.8,354.0 L241.3,354.5 L239.8,355.1 L238.3,355.5 L236.7,356.0 L235.2,356.4 L233.7,356.8 L232.2,357.2 L230.7,357.6 L229.1,357.9 L227.6,358.1 L226.1,358.4 L224.6,358.6 L223.0,358.8 L221.5,358.9 L220.0,359.0 L218.5,359.1 L216.9,359.1 L215.4,359.1 L213.9,359.0 L212.3,358.9 L210.8,358.8 L209.3,358.6 L207.7,358.4 L206.2,358.1 L204.7,357.8 L203.2,357.5 L201.7,357.1 L200.2,356.7 L198.6,356.3 L197.1,355.8 L195.6,355.3 L194.2,354.8 L192.7,354.3 L191.2,353.7 L189.7,353.1 L188.3,352.4 L186.8,351.7 L185.4,351.0 L183.9,350.3 L182.5,349.6 L181.1,348.8 L179.7,348.0 L178.3,347.2 L176.9,346.4 L175.5,345.5 L174.1,344.6 L172.8,343.7 L171.4,342.8 L170.1,341.9 L168.8,341.0 L167.5,340.0 L166.2,339.0 L165.0,338.0 L163.7,337.0 L162.5,336.0 L161.3,335.0 L160.1,333.9 L158.9,332.9 L157.7,331.8 L156.5,330.8 L155.4,329.7 L154.2,328.6 L153.1,327.5 L151.9,326.4 L150.8,325.3 L149.7,324.2 L148.6,323.1 L147.5,322.0 L146.4,320.9 L145.3,319.8 L144.1,318.6 L143.0,317.5 L141.9,316.4 L140.8,315.3 L139.7,314.2 L138.6,313.0 L137.5,311.9 L136.4,310.8 L135.3,309.7 L134.2,308.6 L133.1,307.5 L131.9,306.4 L130.8,305.3 L129.7,304.2 L128.5,303.1 L127.4,302.0 L126.3,300.9 L125.1,299.8 L124.0,298.7 L122.8,297.7 L121.6,296.6 L120.5,295.5 L119.3,294.4 L118.1,293.3 L116.9,292.3 L115.8,291.2 L114.6,290.1 L113.4,289.1 L112.2,288.0 L111.0,287.0Z"/></clipPath>
</defs>
<rect width="550" height="436" fill="#fff"/>
<g stroke-linecap="round">
<line x1="69.7" y1="45.9" x2="409.1" y2="8.4" stroke="#000" stroke-width="1.3" />
<line x1="409.1" y1="8.4" x2="541.4" y2="32.5" stroke="#000" stroke-width="1.3" />
<line x1="69.7" y1="387" x2="409.1" y2="349.6" stroke="#000" stroke-width="1.3" />
<line x1="409.1" y1="349.6" x2="541.4" y2="373.6" stroke="#000" stroke-width="1.3" />
<line x1="409.1" y1="8.4" x2="409.1" y2="349.6" stroke="#000" stroke-width="1.3" />
</g>
<path d="M111.6,285.6 L112.9,286.3 L114.2,286.9 L115.5,287.5 L116.8,288.1 L118.1,288.6 L119.4,289.1 L120.7,289.6 L122.0,290.1 L123.3,290.6 L124.7,291.0 L126.0,291.4 L127.3,291.8 L128.7,292.1 L130.0,292.4 L131.4,292.7 L132.8,292.9 L134.1,293.1 L135.5,293.3 L136.9,293.4 L138.3,293.5 L139.7,293.5 L141.1,293.6 L142.5,293.6 L143.9,293.5 L145.3,293.5 L146.7,293.4 L148.1,293.3 L149.5,293.2 L151.0,293.0 L152.4,292.9 L153.8,292.7 L155.3,292.5 L156.7,292.3 L158.1,292.1 L159.6,291.9 L161.0,291.6 L162.4,291.4 L163.9,291.2 L165.3,290.9 L166.8,290.7 L168.2,290.4 L169.6,290.2 L171.1,289.9 L172.5,289.7 L174.0,289.5 L175.4,289.3 L176.8,289.1 L178.3,288.9 L179.7,288.7 L181.1,288.5 L182.6,288.4 L184.0,288.2 L185.4,288.1 L186.8,288.1 L188.2,288.0 L189.6,288.0 L191.1,288.0 L192.5,288.0 L193.8,288.0 L195.2,288.1 L196.6,288.2 L198.0,288.4 L199.4,288.6 L200.7,288.8 L202.1,289.1 L203.6,288.9 L204.6,288.7 L205.7,288.4 L206.8,288.1 L207.8,287.9 L208.9,287.6 L210.0,287.3 L211.0,287.0 L212.1,286.8 L213.1,286.5 L214.2,286.2 L215.3,285.9 L216.3,285.5 L217.4,285.2 L218.5,284.9 L219.5,284.6 L220.6,284.2 L221.6,283.9 L222.7,283.5 L223.8,283.2 L224.8,282.8 L225.9,282.5 L226.9,282.1 L228.0,281.7 L229.0,281.3 L230.1,280.9 L231.1,280.5 L232.1,280.1 L233.2,279.7 L234.2,279.3 L235.2,278.9 L236.3,278.4 L237.3,278.0 L238.3,277.5 L239.3,277.1 L240.3,276.6 L241.4,276.1 L242.4,275.6 L243.4,275.2 L244.4,274.7 L245.3,274.2 L246.3,273.6 L247.3,273.1 L248.3,272.6 L249.3,272.1 L250.2,271.5 L251.2,271.0 L252.1,270.4 L253.1,269.8 L254.0,269.3 L255.0,268.7 L255.9,268.1 L256.8,267.5 L257.7,266.9 L258.6,266.2 L259.6,265.6 L260.4,265.0 L261.3,264.3 L262.2,263.7 L263.1,263.0 L264.0,262.3 L264.8,261.7 L265.7,261.0 L266.5,260.3 L267.4,259.6 L268.2,258.8 L269.0,258.1 L269.8,257.4 L270.6,256.6 L271.5,255.9 L272.3,255.1 L273.1,254.4 L273.9,253.6 L274.6,252.9 L275.4,252.1 L276.2,251.3 L277.0,250.5 L277.8,249.7 L278.6,248.9 L279.3,248.2 L280.1,247.4 L280.9,246.6 L281.7,245.7 L282.4,244.9 L283.2,244.1 L284.0,243.3 L284.7,242.5 L285.5,241.7 L286.3,240.9 L287.0,240.1 L287.8,239.2 L288.6,238.4 L289.3,237.6 L290.1,236.8 L290.8,235.9 L291.6,235.1 L292.4,234.3 L293.1,233.4 L293.9,232.6 L294.6,231.7 L295.3,230.9 L296.1,230.1 L296.8,229.2 L297.6,228.4 L298.3,227.5 L299.0,226.7 L299.7,225.8 L300.5,225.0 L301.2,224.1 L301.9,223.2 L302.6,222.4 L303.3,221.5 L304.0,220.7 L304.7,219.8 L305.4,218.9 L306.0,218.1 L306.7,217.2 L307.4,216.3 L308.1,215.4 L308.7,214.6 L309.4,213.7 L310.0,212.8 L310.7,211.9 L311.3,211.0 L312.0,210.1 L312.6,209.3 L313.3,208.4 L313.9,207.5 L314.5,206.6 L315.2,205.7 L315.8,204.8 L316.4,203.9 L317.0,203.0 L317.7,202.1 L318.3,201.2 L318.9,200.3 L319.5,199.4 L320.1,198.5 L320.7,197.6 L321.3,196.7 L321.5,196.9 L322.4,197.6 L323.3,198.2 L324.2,198.9 L325.1,199.5 L326.0,200.1 L327.0,200.8 L327.9,201.4 L328.8,202.0 L329.7,202.6 L330.7,203.2 L331.6,203.8 L332.5,204.4 L333.5,204.9 L334.4,205.5 L335.3,206.1 L336.3,206.8 L337.2,207.4 L338.1,208.0 L339.0,208.6 L340.0,209.2 L340.9,209.9 L341.8,210.5 L342.7,211.1 L343.6,211.8 L344.5,212.4 L345.5,213.1 L346.4,213.7 L347.3,214.3 L348.2,214.9 L349.1,215.6 L350.1,216.2 L351.0,216.8 L351.9,217.4 L352.9,218.0 L353.8,218.6 L354.8,219.2 L355.7,219.7 L356.7,220.3 L357.7,220.8 L358.6,221.3 L359.6,221.9 L360.6,222.4 L361.6,222.9 L362.6,223.3 L363.6,223.8 L364.6,224.2 L365.6,224.6 L366.6,225.0 L367.7,225.4 L368.7,225.8 L369.8,226.1 L370.8,226.5 L371.9,226.8 L373.0,227.0 L374.1,227.3 L375.1,227.5 L376.2,227.8 L377.3,228.0 L378.4,228.1 L379.6,228.3 L380.7,228.5 L381.8,228.6 L382.9,228.7 L384.0,228.8 L385.2,228.9 L386.3,229.0 L387.4,229.1 L388.5,229.2 L389.7,229.2 L390.8,229.2 L391.9,229.3 L393.1,229.3 L394.2,229.3 L395.3,229.3 L396.4,229.3 L397.6,229.3 L398.7,229.2 L399.8,229.2 L400.9,229.2 L402.0,229.1 L403.1,229.1 L404.2,229.0 L405.3,229.0 L406.4,228.9 L407.5,228.8 L408.5,228.8 L409.5,227.4 L410.8,227.8 L412.1,228.3 L413.3,228.8 L414.6,229.3 L415.9,229.8 L417.1,230.4 L418.4,230.9 L419.6,231.6 L420.8,232.2 L422.1,232.8 L423.3,233.5 L424.5,234.2 L425.7,234.9 L426.9,235.6 L428.2,236.3 L429.4,237.0 L430.6,237.7 L431.8,238.5 L433.0,239.2 L434.2,239.9 L435.5,240.7 L436.7,241.4 L437.9,242.2 L439.1,242.9 L440.4,243.6 L441.6,244.3 L442.8,245.0 L444.1,245.7 L445.3,246.3 L446.6,247.0 L447.9,247.7 L449.1,248.3 L450.4,248.9 L451.7,249.5 L452.9,250.1 L454.2,250.6 L455.5,251.2 L456.8,251.7 L458.1,252.2 L459.4,252.7 L460.7,253.1 L462.0,253.6 L463.3,254.0 L464.7,254.4 L466.0,254.8 L467.3,255.1 L468.7,255.4 L470.0,255.7 L471.3,256.0 L472.7,256.2 L474.0,256.4 L475.4,256.6 L476.8,256.7 L478.1,256.8 L479.5,256.9 L480.9,257.0 L482.3,257.0 L483.7,257.0 L485.1,257.0 L486.4,256.9 L487.8,256.8 L489.2,256.8 L490.6,256.7 L492.0,256.5 L493.5,256.4 L494.9,256.2 L496.3,256.1 L497.7,255.9 L499.1,255.7 L500.5,255.5 L501.9,255.2 L503.3,255.0 L504.7,254.8 L506.2,254.5 L507.6,254.3 L509.0,254.0 L510.4,253.8 L511.8,253.5 L513.2,253.3 L514.6,253.0 L516.0,252.8 L517.4,252.5 L518.8,252.3 L520.2,252.0 L521.6,251.8 L521.7,254.0 L520.2,254.6 L518.8,255.3 L517.4,255.9 L516.0,256.6 L514.6,257.3 L513.2,258.1 L511.8,258.8 L510.5,259.6 L509.2,260.4 L507.8,261.2 L506.5,262.1 L505.2,262.9 L503.9,263.8 L502.6,264.7 L501.4,265.6 L500.1,266.5 L498.8,267.5 L497.6,268.4 L496.3,269.4 L495.1,270.3 L493.9,271.3 L492.7,272.3 L491.5,273.3 L490.3,274.4 L489.1,275.4 L487.9,276.4 L486.7,277.5 L485.5,278.5 L484.3,279.6 L483.1,280.7 L482.0,281.8 L480.8,282.9 L479.7,284.0 L478.5,285.1 L477.3,286.2 L476.2,287.3 L475.0,288.4 L473.9,289.5 L472.7,290.6 L471.6,291.7 L470.4,292.8 L469.3,294.0 L468.1,295.1 L467.0,296.2 L465.8,297.3 L464.7,298.4 L463.5,299.5 L462.4,300.6 L461.2,301.7 L460.0,302.8 L458.9,303.9 L457.7,305.0 L456.5,306.1 L455.3,307.2 L454.2,308.3 L453.0,309.3 L451.8,310.4 L450.6,311.4 L449.4,312.5 L448.2,313.5 L447.0,314.5 L445.7,315.5 L444.5,316.5 L443.3,317.5 L442.0,318.5 L440.8,319.4 L439.5,320.4 L438.2,321.3 L436.9,322.2 L435.6,323.1 L434.3,324.0 L433.0,324.8 L431.7,325.7 L430.3,326.5 L429.0,327.3 L427.6,328.1 L426.3,328.9 L424.9,329.6 L423.5,330.3 L422.1,331.1 L420.6,331.7 L419.2,332.4 L417.8,333.0 L416.3,333.7 L414.8,334.3 L413.4,334.8 L411.9,335.4 L410.4,335.9 L408.9,336.4 L407.4,336.8 L405.9,337.3 L404.3,337.7 L402.8,338.1 L401.3,338.5 L399.7,338.8 L398.2,339.1 L396.6,339.4 L395.1,339.6 L393.5,339.8 L392.0,340.0 L390.4,340.2 L388.8,340.3 L387.3,340.4 L385.7,340.4 L384.1,340.5 L382.6,340.5 L381.0,340.4 L379.4,340.3 L377.9,340.2 L376.3,340.1 L374.7,339.9 L373.2,339.7 L371.6,339.4 L370.1,339.1 L368.5,338.8 L367.0,338.5 L365.4,338.1 L363.9,337.7 L362.3,337.3 L360.8,336.8 L359.2,336.3 L357.7,335.9 L356.2,335.4 L354.6,334.9 L353.1,334.3 L351.6,333.8 L350.0,333.3 L348.5,332.7 L347.0,332.2 L345.5,331.7 L343.9,331.2 L342.4,330.6 L340.9,330.1 L339.4,329.6 L337.8,329.2 L336.3,328.7 L334.8,328.3 L333.2,327.8 L331.7,327.4 L330.2,327.1 L328.6,326.7 L327.1,326.4 L325.6,326.2 L324.0,325.9 L322.5,325.7 L321.0,325.6 L319.4,325.4 L317.9,325.4 L316.3,325.4 L314.8,325.4 L313.2,325.4 L311.7,325.5 L310.1,325.7 L308.6,325.9 L307.1,326.1 L305.5,326.3 L304.0,326.6 L302.5,327.0 L300.9,327.3 L299.4,327.7 L297.9,328.2 L296.4,328.6 L295.0,329.1 L293.5,329.7 L292.0,330.2 L290.6,330.8 L289.1,331.4 L287.7,332.1 L286.2,332.7 L284.8,333.4 L283.4,334.1 L282.0,334.8 L280.5,335.5 L279.1,336.3 L277.7,337.0 L276.3,337.8 L274.9,338.5 L273.5,339.3 L272.1,340.1 L270.6,340.8 L269.2,341.6 L267.8,342.4 L266.3,343.1 L264.9,343.9 L263.5,344.7 L262.0,345.4 L260.6,346.2 L259.1,346.9 L257.6,347.6 L256.2,348.3 L254.7,349.0 L253.2,349.7 L251.7,350.4 L250.2,351.0 L248.8,351.7 L247.3,352.3 L245.8,352.9 L244.3,353.5 L242.8,354.0 L241.3,354.5 L239.8,355.1 L238.3,355.5 L236.7,356.0 L235.2,356.4 L233.7,356.8 L232.2,357.2 L230.7,357.6 L229.1,357.9 L227.6,358.1 L226.1,358.4 L224.6,358.6 L223.0,358.8 L221.5,358.9 L220.0,359.0 L218.5,359.1 L216.9,359.1 L215.4,359.1 L213.9,359.0 L212.3,358.9 L210.8,358.8 L209.3,358.6 L207.7,358.4 L206.2,358.1 L204.7,357.8 L203.2,357.5 L201.7,357.1 L200.2,356.7 L198.6,356.3 L197.1,355.8 L195.6,355.3 L194.2,354.8 L192.7,354.3 L191.2,353.7 L189.7,353.1 L188.3,352.4 L186.8,351.7 L185.4,351.0 L183.9,350.3 L182.5,349.6 L181.1,348.8 L179.7,348.0 L178.3,347.2 L176.9,346.4 L175.5,345.5 L174.1,344.6 L172.8,343.7 L171.4,342.8 L170.1,341.9 L168.8,341.0 L167.5,340.0 L166.2,339.0 L165.0,338.0 L163.7,337.0 L162.5,336.0 L161.3,335.0 L160.1,333.9 L158.9,332.9 L157.7,331.8 L156.5,330.8 L155.4,329.7 L154.2,328.6 L153.1,327.5 L151.9,326.4 L150.8,325.3 L149.7,324.2 L148.6,323.1 L147.5,322.0 L146.4,320.9 L145.3,319.8 L144.1,318.6 L143.0,317.5 L141.9,316.4 L140.8,315.3 L139.7,314.2 L138.6,313.0 L137.5,311.9 L136.4,310.8 L135.3,309.7 L134.2,308.6 L133.1,307.5 L131.9,306.4 L130.8,305.3 L129.7,304.2 L128.5,303.1 L127.4,302.0 L126.3,300.9 L125.1,299.8 L124.0,298.7 L122.8,297.7 L121.6,296.6 L120.5,295.5 L119.3,294.4 L118.1,293.3 L116.9,292.3 L115.8,291.2 L114.6,290.1 L113.4,289.1 L112.2,288.0 L111.0,287.0Z" fill="url(#gRed)"/>
<g clip-path="url(#cRed)">
<path d="M111.0,287.0 L112.2,288.0 L113.4,289.1 L114.6,290.1 L115.8,291.2 L116.9,292.3 L118.1,293.3 L119.3,294.4 L120.5,295.5 L121.6,296.6 L122.8,297.7 L124.0,298.7 L125.1,299.8 L126.3,300.9 L127.4,302.0 L128.5,303.1 L129.7,304.2 L130.8,305.3 L131.9,306.4 L133.1,307.5 L134.2,308.6 L135.3,309.7 L136.4,310.8 L137.5,311.9 L138.6,313.0 L139.7,314.2 L140.8,315.3 L141.9,316.4 L143.0,317.5 L144.1,318.6 L145.3,319.8 L146.4,320.9 L147.5,322.0 L148.6,323.1 L149.7,324.2 L150.8,325.3 L151.9,326.4 L153.1,327.5 L154.2,328.6 L155.4,329.7 L156.5,330.8 L157.7,331.8 L158.9,332.9 L160.1,333.9 L161.3,335.0 L162.5,336.0 L163.7,337.0 L165.0,338.0 L166.2,339.0 L167.5,340.0 L168.8,341.0 L170.1,341.9 L171.4,342.8 L172.8,343.7 L174.1,344.6 L175.5,345.5 L176.9,346.4 L178.3,347.2 L179.7,348.0 L181.1,348.8 L182.5,349.6 L183.9,350.3 L185.4,351.0 L186.8,351.7 L188.3,352.4 L189.7,353.1 L191.2,353.7 L192.7,354.3 L194.2,354.8 L195.6,355.3 L197.1,355.8 L198.6,356.3 L200.2,356.7 L201.7,357.1 L203.2,357.5 L204.7,357.8 L206.2,358.1 L207.7,358.4 L209.3,358.6 L210.8,358.8 L212.3,358.9 L213.9,359.0 L215.4,359.1 L216.9,359.1 L218.5,359.1 L220.0,359.0 L221.5,358.9 L223.0,358.8 L224.6,358.6 L226.1,358.4 L227.6,358.1 L229.1,357.9 L230.7,357.6 L232.2,357.2 L233.7,356.8 L235.2,356.4 L236.7,356.0 L238.3,355.5 L239.8,355.1 L241.3,354.5 L242.8,354.0 L244.3,353.5 L245.8,352.9 L247.3,352.3 L248.8,351.7 L250.2,351.0 L251.7,350.4 L253.2,349.7 L254.7,349.0 L256.2,348.3 L257.6,347.6 L259.1,346.9 L260.6,346.2 L262.0,345.4 L263.5,344.7 L264.9,343.9 L266.3,343.1 L267.8,342.4 L269.2,341.6 L270.6,340.8 L272.1,340.1 L273.5,339.3 L274.9,338.5 L276.3,337.8 L277.7,337.0 L279.1,336.3 L280.5,335.5 L282.0,334.8 L283.4,334.1 L284.8,333.4 L286.2,332.7 L287.7,332.1 L289.1,331.4 L290.6,330.8 L292.0,330.2 L293.5,329.7 L295.0,329.1 L296.4,328.6 L297.9,328.2 L299.4,327.7 L300.9,327.3 L302.5,327.0 L304.0,326.6 L305.5,326.3 L307.1,326.1 L308.6,325.9 L310.1,325.7 L311.7,325.5 L313.2,325.4 L314.8,325.4 L316.3,325.4 L317.9,325.4 L319.4,325.4 L321.0,325.6 L322.5,325.7 L324.0,325.9 L325.6,326.2 L327.1,326.4 L328.6,326.7 L330.2,327.1 L331.7,327.4 L333.2,327.8 L334.8,328.3 L336.3,328.7 L337.8,329.2 L339.4,329.6 L340.9,330.1 L342.4,330.6 L343.9,331.2 L345.5,331.7 L347.0,332.2 L348.5,332.7 L350.0,333.3 L351.6,333.8 L353.1,334.3 L354.6,334.9 L356.2,335.4 L357.7,335.9 L359.2,336.3 L360.8,336.8 L362.3,337.3 L363.9,337.7 L365.4,338.1 L367.0,338.5 L368.5,338.8 L370.1,339.1 L371.6,339.4 L373.2,339.7 L374.7,339.9 L376.3,340.1 L377.9,340.2 L379.4,340.3 L381.0,340.4 L382.6,340.5 L384.1,340.5 L385.7,340.4 L387.3,340.4 L388.8,340.3 L390.4,340.2 L392.0,340.0 L393.5,339.8 L395.1,339.6 L396.6,339.4 L398.2,339.1 L399.7,338.8 L401.3,338.5 L402.8,338.1 L404.3,337.7 L405.9,337.3 L407.4,336.8 L408.9,336.4 L410.4,335.9 L411.9,335.4 L413.4,334.8 L414.8,334.3 L416.3,333.7 L417.8,333.0 L419.2,332.4 L420.6,331.7 L422.1,331.1 L423.5,330.3 L424.9,329.6 L426.3,328.9 L427.6,328.1 L429.0,327.3 L430.3,326.5 L431.7,325.7 L433.0,324.8 L434.3,324.0 L435.6,323.1 L436.9,322.2 L438.2,321.3 L439.5,320.4 L440.8,319.4 L442.0,318.5 L443.3,317.5 L444.5,316.5 L445.7,315.5 L447.0,314.5 L448.2,313.5 L449.4,312.5 L450.6,311.4 L451.8,310.4 L453.0,309.3 L454.2,308.3 L455.3,307.2 L456.5,306.1 L457.7,305.0 L458.9,303.9 L460.0,302.8 L461.2,301.7 L462.4,300.6 L463.5,299.5 L464.7,298.4 L465.8,297.3 L467.0,296.2 L468.1,295.1 L469.3,294.0 L470.4,292.8 L471.6,291.7 L472.7,290.6 L473.9,289.5 L475.0,288.4 L476.2,287.3 L477.3,286.2 L478.5,285.1 L479.7,284.0 L480.8,282.9 L482.0,281.8 L483.1,280.7 L484.3,279.6 L485.5,278.5 L486.7,277.5 L487.9,276.4 L489.1,275.4 L490.3,274.4 L491.5,273.3 L492.7,272.3 L493.9,271.3 L495.1,270.3 L496.3,269.4 L497.6,268.4 L498.8,267.5 L500.1,266.5 L501.4,265.6 L502.6,264.7 L503.9,263.8 L505.2,262.9 L506.5,262.1 L507.8,261.2 L509.2,260.4 L510.5,259.6 L511.8,258.8 L513.2,258.1 L514.6,257.3 L516.0,256.6 L517.4,255.9 L518.8,255.3 L520.2,254.6 L521.7,254.0" fill="none" stroke="#c85a5a" stroke-opacity="0.55" stroke-width="5" filter="url(#b2)"/>
<path d="M111.0,287.0 L112.2,288.0 L113.4,289.1 L114.6,290.1 L115.8,291.2 L116.9,292.3 L118.1,293.3 L119.3,294.4 L120.5,295.5 L121.6,296.6 L122.8,297.7 L124.0,298.7 L125.1,299.8 L126.3,300.9 L127.4,302.0 L128.5,303.1 L129.7,304.2 L130.8,305.3 L131.9,306.4 L133.1,307.5 L134.2,308.6 L135.3,309.7 L136.4,310.8 L137.5,311.9 L138.6,313.0 L139.7,314.2 L140.8,315.3 L141.9,316.4 L143.0,317.5 L144.1,318.6 L145.3,319.8 L146.4,320.9 L147.5,322.0 L148.6,323.1 L149.7,324.2 L150.8,325.3 L151.9,326.4 L153.1,327.5 L154.2,328.6 L155.4,329.7 L156.5,330.8 L157.7,331.8 L158.9,332.9 L160.1,333.9 L161.3,335.0 L162.5,336.0 L163.7,337.0 L165.0,338.0 L166.2,339.0 L167.5,340.0 L168.8,341.0 L170.1,341.9 L171.4,342.8 L172.8,343.7 L174.1,344.6 L175.5,345.5 L176.9,346.4 L178.3,347.2 L179.7,348.0 L181.1,348.8 L182.5,349.6 L183.9,350.3 L185.4,351.0 L186.8,351.7 L188.3,352.4 L189.7,353.1 L191.2,353.7 L192.7,354.3 L194.2,354.8 L195.6,355.3 L197.1,355.8 L198.6,356.3 L200.2,356.7 L201.7,357.1 L203.2,357.5 L204.7,357.8 L206.2,358.1 L207.7,358.4 L209.3,358.6 L210.8,358.8 L212.3,358.9 L213.9,359.0 L215.4,359.1 L216.9,359.1 L218.5,359.1 L220.0,359.0 L221.5,358.9 L223.0,358.8 L224.6,358.6 L226.1,358.4 L227.6,358.1 L229.1,357.9 L230.7,357.6 L232.2,357.2 L233.7,356.8 L235.2,356.4 L236.7,356.0 L238.3,355.5 L239.8,355.1 L241.3,354.5 L242.8,354.0 L244.3,353.5 L245.8,352.9 L247.3,352.3 L248.8,351.7 L250.2,351.0 L251.7,350.4 L253.2,349.7 L254.7,349.0 L256.2,348.3 L257.6,347.6 L259.1,346.9 L260.6,346.2 L262.0,345.4 L263.5,344.7 L264.9,343.9 L266.3,343.1 L267.8,342.4 L269.2,341.6 L270.6,340.8 L272.1,340.1 L273.5,339.3 L274.9,338.5 L276.3,337.8 L277.7,337.0 L279.1,336.3 L280.5,335.5 L282.0,334.8 L283.4,334.1 L284.8,333.4 L286.2,332.7 L287.7,332.1 L289.1,331.4 L290.6,330.8 L292.0,330.2 L293.5,329.7 L295.0,329.1 L296.4,328.6 L297.9,328.2 L299.4,327.7 L300.9,327.3 L302.5,327.0 L304.0,326.6 L305.5,326.3 L307.1,326.1 L308.6,325.9 L310.1,325.7 L311.7,325.5 L313.2,325.4 L314.8,325.4 L316.3,325.4 L317.9,325.4 L319.4,325.4 L321.0,325.6 L322.5,325.7 L324.0,325.9 L325.6,326.2 L327.1,326.4 L328.6,326.7 L330.2,327.1 L331.7,327.4 L333.2,327.8 L334.8,328.3 L336.3,328.7 L337.8,329.2 L339.4,329.6 L340.9,330.1 L342.4,330.6 L343.9,331.2 L345.5,331.7 L347.0,332.2 L348.5,332.7 L350.0,333.3 L351.6,333.8 L353.1,334.3 L354.6,334.9 L356.2,335.4 L357.7,335.9 L359.2,336.3 L360.8,336.8 L362.3,337.3 L363.9,337.7 L365.4,338.1 L367.0,338.5 L368.5,338.8 L370.1,339.1 L371.6,339.4 L373.2,339.7 L374.7,339.9 L376.3,340.1 L377.9,340.2 L379.4,340.3 L381.0,340.4 L382.6,340.5 L384.1,340.5 L385.7,340.4 L387.3,340.4 L388.8,340.3 L390.4,340.2 L392.0,340.0 L393.5,339.8 L395.1,339.6 L396.6,339.4 L398.2,339.1 L399.7,338.8 L401.3,338.5 L402.8,338.1 L404.3,337.7 L405.9,337.3 L407.4,336.8 L408.9,336.4 L410.4,335.9 L411.9,335.4 L413.4,334.8 L414.8,334.3 L416.3,333.7 L417.8,333.0 L419.2,332.4 L420.6,331.7 L422.1,331.1 L423.5,330.3 L424.9,329.6 L426.3,328.9 L427.6,328.1 L429.0,327.3 L430.3,326.5 L431.7,325.7 L433.0,324.8 L434.3,324.0 L435.6,323.1 L436.9,322.2 L438.2,321.3 L439.5,320.4 L440.8,319.4 L442.0,318.5 L443.3,317.5 L444.5,316.5 L445.7,315.5 L447.0,314.5 L448.2,313.5 L449.4,312.5 L450.6,311.4 L451.8,310.4 L453.0,309.3 L454.2,308.3 L455.3,307.2 L456.5,306.1 L457.7,305.0 L458.9,303.9 L460.0,302.8 L461.2,301.7 L462.4,300.6 L463.5,299.5 L464.7,298.4 L465.8,297.3 L467.0,296.2 L468.1,295.1 L469.3,294.0 L470.4,292.8 L471.6,291.7 L472.7,290.6 L473.9,289.5 L475.0,288.4 L476.2,287.3 L477.3,286.2 L478.5,285.1 L479.7,284.0 L480.8,282.9 L482.0,281.8 L483.1,280.7 L484.3,279.6 L485.5,278.5 L486.7,277.5 L487.9,276.4 L489.1,275.4 L490.3,274.4 L491.5,273.3 L492.7,272.3 L493.9,271.3 L495.1,270.3 L496.3,269.4 L497.6,268.4 L498.8,267.5 L500.1,266.5 L501.4,265.6 L502.6,264.7 L503.9,263.8 L505.2,262.9 L506.5,262.1 L507.8,261.2 L509.2,260.4 L510.5,259.6 L511.8,258.8 L513.2,258.1 L514.6,257.3 L516.0,256.6 L517.4,255.9 L518.8,255.3 L520.2,254.6 L521.7,254.0" fill="none" stroke="#d06060" stroke-width="1.2"/>
</g>
<path d="M68.5,263.5 L70.2,263.1 L71.9,262.6 L73.6,262.2 L75.3,261.8 L77.1,261.4 L78.8,261.0 L80.6,260.6 L82.4,260.2 L84.2,259.8 L85.9,259.4 L87.7,258.9 L89.5,258.5 L91.3,258.0 L93.0,257.5 L94.8,257.0 L96.5,256.4 L98.3,255.9 L100.0,255.3 L101.7,254.6 L103.4,254.0 L105.1,253.3 L106.7,252.5 L108.4,251.8 L110.0,251.0 L111.6,250.1 L113.1,249.3 L114.7,248.4 L116.2,247.5 L117.8,246.5 L119.3,245.5 L120.7,244.5 L122.2,243.5 L123.7,242.4 L125.1,241.3 L126.5,240.2 L128.0,239.1 L129.3,237.9 L130.7,236.8 L132.1,235.6 L133.5,234.4 L134.8,233.1 L136.1,231.9 L137.4,230.6 L138.8,229.4 L140.0,228.1 L141.3,226.8 L142.6,225.5 L143.9,224.2 L145.1,222.8 L146.4,221.5 L147.6,220.1 L148.8,218.8 L150.0,217.4 L151.2,216.1 L152.4,214.7 L153.6,213.3 L154.8,211.9 L156.0,210.6 L157.1,209.2 L158.3,207.8 L159.4,206.4 L160.6,205.0 L161.7,203.5 L162.8,202.1 L163.9,200.7 L165.0,199.3 L166.1,197.8 L167.2,196.4 L168.3,194.9 L169.4,193.5 L170.5,192.0 L171.5,190.6 L172.6,189.1 L173.6,187.6 L174.7,186.1 L175.7,184.7 L176.7,183.2 L177.7,181.7 L178.8,180.2 L179.8,178.7 L180.8,177.2 L181.8,175.7 L182.7,174.2 L183.7,172.6 L184.7,171.1 L185.7,169.6 L186.6,168.1 L187.6,166.5 L188.5,165.0 L189.5,163.4 L190.4,161.9 L191.4,160.3 L192.3,158.8 L193.2,157.2 L194.1,155.7 L195.0,154.1 L195.9,152.5 L196.9,151.0 L197.7,149.4 L198.6,147.8 L199.5,146.2 L200.4,144.6 L201.3,143.0 L202.2,141.5 L203.0,139.9 L203.9,138.3 L204.7,136.7 L205.6,135.1 L206.5,133.4 L207.3,131.8 L208.1,130.2 L209.0,128.6 L209.8,127.0 L210.6,125.4 L211.5,123.7 L212.3,122.1 L213.1,120.5 L213.9,118.9 L214.7,117.2 L215.6,115.6 L216.4,113.9 L217.2,112.3 L218.0,110.7 L218.8,109.0 L219.6,107.4 L220.4,105.8 L221.2,104.1 L222.0,102.5 L222.9,100.9 L223.7,99.3 L224.6,97.7 L225.4,96.1 L226.3,94.5 L227.2,92.9 L228.1,91.4 L229.1,89.8 L230.0,88.3 L231.0,86.8 L232.0,85.3 L233.0,83.8 L234.1,82.4 L235.2,81.0 L236.3,79.6 L237.5,78.2 L238.7,76.8 L239.9,75.5 L241.1,74.2 L242.4,72.9 L243.8,71.7 L245.1,70.5 L246.5,69.4 L248.0,68.4 L249.5,67.4 L251.1,66.6 L252.7,65.9 L254.3,65.4 L256.0,65.0 L257.8,64.7 L259.6,64.6 L261.4,64.7 L263.2,64.9 L265.0,65.2 L266.7,65.6 L268.4,66.2 L270.1,66.8 L271.8,67.6 L273.4,68.4 L275.0,69.3 L276.5,70.3 L278.1,71.3 L279.5,72.4 L281.0,73.6 L282.4,74.8 L283.8,76.1 L285.1,77.4 L286.4,78.7 L287.7,80.1 L288.9,81.5 L290.1,82.9 L291.3,84.3 L292.5,85.7 L293.6,87.1 L294.7,88.5 L295.8,89.9 L296.9,91.3 L297.9,92.7 L299.0,94.1 L300.1,95.5 L301.2,96.9 L302.3,98.3 L303.4,99.7 L304.5,101.1 L305.7,102.5 L306.9,103.8 L308.1,105.2 L309.3,106.5 L310.6,107.8 L312.0,109.1 L313.4,110.4 L313.4,110.2 L314.5,109.1 L315.6,108.0 L316.7,106.9 L317.7,105.7 L318.8,104.6 L319.8,103.4 L320.8,102.2 L321.8,101.1 L322.8,99.9 L323.9,98.7 L324.9,97.5 L325.9,96.2 L327.0,95.0 L328.1,93.8 L329.2,92.6 L330.3,91.4 L331.5,90.3 L332.7,89.2 L333.9,88.1 L335.2,87.0 L336.5,86.0 L337.8,85.1 L339.2,84.2 L340.6,83.4 L342.0,82.7 L343.5,82.0 L345.0,81.4 L346.6,81.0 L348.1,80.6 L349.7,80.4 L351.2,80.2 L352.8,80.2 L354.3,80.3 L355.8,80.6 L357.2,81.0 L358.6,81.5 L359.9,82.1 L361.2,82.8 L362.5,83.6 L363.8,84.5 L365.0,85.5 L366.2,86.5 L367.3,87.6 L368.5,88.7 L369.6,89.9 L370.7,91.0 L371.8,92.2 L372.9,93.4 L374.0,94.6 L375.0,95.8 L376.0,97.0 L377.1,98.2 L378.1,99.5 L379.1,100.7 L380.1,101.9 L381.1,103.2 L382.0,104.5 L383.0,105.7 L384.0,107.0 L384.9,108.3 L385.8,109.6 L386.8,110.9 L387.7,112.2 L388.6,113.5 L389.5,114.8 L390.4,116.1 L391.3,117.4 L392.1,118.8 L393.0,120.1 L393.9,121.4 L394.8,122.8 L395.6,124.1 L396.5,125.4 L397.3,126.8 L398.2,128.1 L399.0,129.5 L399.9,130.8 L400.7,132.2 L401.5,133.5 L402.4,134.9 L403.2,136.2 L404.1,137.6 L404.9,138.9 L405.7,140.3 L406.6,141.6 L407.4,143.0 L408.3,144.3 L409.1,145.7 L410.0,147.0 L410.8,148.3 L411.7,149.7 L412.5,151.0 L413.4,152.3 L414.2,153.7 L415.1,155.0 L416.0,156.3 L416.9,157.6 L417.8,158.9 L418.7,160.2 L419.6,161.5 L420.5,162.8 L421.4,164.1 L422.3,165.4 L423.2,166.7 L424.2,167.9 L425.1,169.2 L426.1,170.4 L427.1,171.7 L428.0,172.9 L429.0,174.2 L430.0,175.4 L431.0,176.6 L432.0,177.8 L433.1,179.0 L434.1,180.2 L435.1,181.4 L436.2,182.6 L437.2,183.8 L438.3,184.9 L439.3,186.1 L440.4,187.3 L441.5,188.4 L442.6,189.6 L443.7,190.7 L444.8,191.9 L445.9,193.0 L447.0,194.1 L448.1,195.2 L449.2,196.4 L450.4,197.5 L451.5,198.6 L452.6,199.7 L453.8,200.8 L454.9,201.9 L456.1,203.0 L457.3,204.1 L458.4,205.2 L459.6,206.3 L460.8,207.3 L461.9,208.4 L463.1,209.5 L464.3,210.6 L465.5,211.6 L466.7,212.7 L467.9,213.7 L469.1,214.8 L470.3,215.9 L471.5,216.9 L472.7,218.0 L473.9,219.0 L475.1,220.1 L476.3,221.1 L477.6,222.1 L478.8,223.2 L480.0,224.2 L481.2,225.2 L482.4,226.3 L483.7,227.3 L484.9,228.3 L486.1,229.4 L487.4,230.4 L488.6,231.4 L489.9,232.4 L491.1,233.3 L492.4,234.3 L493.6,235.3 L494.9,236.2 L496.2,237.1 L497.5,238.0 L498.8,238.9 L500.1,239.8 L501.4,240.7 L502.7,241.5 L504.0,242.3 L505.4,243.1 L506.7,243.8 L508.1,244.6 L509.5,245.3 L510.9,245.9 L512.3,246.6 L513.7,247.2 L515.1,247.8 L516.6,248.3 L518.1,248.8 L519.5,249.3 L521.0,249.8 L522.6,250.2 L524.1,250.5 L525.6,250.8 L527.2,251.1 L528.8,251.4 L530.4,251.5 L532.0,251.7 L533.7,251.8 L535.3,251.8 L537.0,251.9 L538.7,251.8 L540.5,251.7 L542.2,251.6 L539.2,252.2 L538.1,252.3 L536.9,252.4 L535.8,252.5 L534.7,252.6 L533.6,252.6 L532.4,252.7 L531.3,252.7 L530.2,252.7 L529.1,252.7 L528.0,252.7 L526.8,252.7 L525.7,252.7 L524.6,252.6 L523.5,252.6 L522.4,252.5 L521.3,252.4 L520.2,252.3 L519.1,252.2 L518.0,252.1 L516.9,252.0 L515.8,251.8 L514.7,251.6 L513.6,251.5 L512.5,251.3 L511.4,251.1 L510.3,250.9 L509.2,250.7 L508.2,250.4 L507.1,250.2 L506.0,249.9 L504.9,249.7 L503.9,249.4 L502.8,249.1 L501.7,248.8 L500.7,248.5 L499.6,248.1 L498.6,247.8 L497.5,247.5 L496.5,247.1 L495.4,246.7 L494.4,246.4 L493.4,246.0 L492.3,245.6 L491.3,245.2 L490.3,244.7 L489.3,244.3 L488.2,243.9 L487.2,243.4 L486.2,243.0 L485.2,242.5 L484.2,242.0 L483.2,241.5 L482.2,241.0 L481.3,240.5 L480.3,240.0 L479.3,239.5 L478.3,238.9 L477.4,238.4 L476.4,237.8 L475.4,237.3 L474.5,236.7 L473.6,236.1 L472.6,235.5 L471.7,234.9 L470.7,234.3 L469.8,233.7 L468.9,233.1 L468.0,232.4 L467.1,231.8 L466.2,231.1 L465.3,230.5 L464.4,229.8 L463.5,229.2 L462.6,228.5 L461.7,227.8 L460.9,227.1 L460.0,226.4 L459.2,225.7 L458.3,225.0 L457.5,224.2 L456.6,223.5 L455.8,222.8 L455.0,222.0 L454.2,221.3 L453.3,220.5 L452.5,219.8 L451.7,219.0 L450.9,218.2 L450.1,217.5 L449.3,216.7 L448.6,215.9 L447.8,215.1 L447.0,214.3 L446.2,213.5 L445.5,212.7 L444.7,211.9 L443.9,211.1 L443.2,210.2 L442.4,209.4 L441.7,208.6 L440.9,207.8 L440.2,206.9 L439.4,206.1 L438.7,205.3 L438.0,204.4 L437.3,203.6 L436.5,202.8 L435.8,201.9 L435.1,201.1 L434.4,200.2 L433.6,199.4 L432.9,198.5 L432.2,197.7 L431.5,196.8 L430.8,196.0 L430.1,195.1 L429.4,194.3 L428.7,193.4 L428.0,192.6 L427.3,191.7 L426.6,190.9 L425.9,190.0 L425.2,189.2 L424.5,188.3 L423.8,187.5 L423.1,186.6 L422.4,185.8 L421.7,184.9 L421.0,184.1 L420.3,183.2 L419.6,182.4 L418.9,181.6 L418.2,180.7 L417.5,179.9 L416.8,179.0 L416.1,178.2 L415.4,177.4 L414.7,176.5 L414.0,175.7 L413.3,174.8 L412.6,174.0 L411.9,173.2 L411.2,172.3 L410.5,171.5 L409.8,170.6 L409.1,169.8 L408.4,168.9 L407.7,168.0 L407.0,167.2 L406.3,166.3 L405.6,165.4 L404.9,164.6 L404.1,163.7 L403.4,162.8 L402.7,161.9 L402.0,161.0 L401.3,160.1 L400.5,159.2 L399.8,158.3 L399.1,157.4 L398.4,156.5 L397.6,155.6 L396.9,154.7 L396.1,153.9 L395.3,153.0 L394.6,152.1 L393.8,151.3 L393.0,150.5 L392.2,149.7 L391.4,148.9 L390.5,148.2 L389.7,147.5 L388.8,146.8 L388.0,146.1 L387.1,145.5 L386.2,144.9 L385.3,144.3 L384.3,143.8 L383.3,143.3 L382.4,142.9 L381.4,142.5 L380.3,142.1 L379.3,141.8 L378.3,141.6 L377.2,141.4 L376.1,141.2 L375.1,141.1 L374.0,141.0 L372.9,141.0 L371.8,141.0 L370.8,141.1 L369.7,141.2 L368.6,141.4 L367.6,141.6 L366.6,141.8 L365.6,142.1 L364.6,142.5 L363.6,142.9 L362.7,143.3 L361.7,143.8 L360.8,144.3 L359.9,144.9 L359.0,145.5 L358.2,146.1 L357.3,146.7 L356.5,147.4 L355.7,148.1 L354.9,148.9 L354.1,149.7 L353.3,150.5 L352.6,151.3 L351.8,152.1 L351.1,153.0 L350.4,153.9 L349.7,154.8 L348.9,155.7 L348.3,156.6 L347.6,157.5 L346.9,158.4 L346.2,159.4 L345.5,160.3 L344.9,161.3 L344.2,162.2 L343.5,163.2 L342.9,164.1 L342.2,165.1 L341.6,166.0 L340.9,167.0 L340.3,167.9 L339.7,168.8 L339.0,169.8 L338.4,170.7 L337.8,171.7 L337.2,172.6 L336.5,173.6 L335.9,174.5 L335.3,175.4 L334.7,176.4 L334.1,177.3 L333.4,178.2 L332.8,179.2 L332.2,180.1 L331.6,181.0 L331.0,182.0 L330.4,182.9 L329.8,183.8 L329.2,184.7 L328.6,185.7 L328.0,186.6 L327.4,187.5 L326.8,188.4 L326.2,189.4 L325.6,190.3 L325.0,191.2 L324.4,192.1 L323.8,193.0 L323.2,193.9 L322.5,194.9 L321.9,195.8 L321.3,196.7 L321.5,196.9 L320.7,196.2 L319.8,195.5 L319.0,194.7 L318.1,194.0 L317.3,193.2 L316.4,192.5 L315.6,191.7 L314.8,190.9 L314.0,190.1 L313.2,189.3 L312.4,188.5 L311.6,187.7 L310.8,186.8 L310.1,186.0 L309.3,185.2 L308.5,184.4 L307.8,183.5 L307.0,182.7 L306.3,181.9 L305.5,181.0 L304.8,180.2 L304.1,179.4 L303.3,178.5 L302.6,177.7 L301.9,176.9 L301.2,176.1 L300.4,175.2 L299.7,174.4 L299.0,173.6 L298.3,172.7 L297.6,171.9 L296.9,171.1 L296.2,170.2 L295.5,169.4 L294.8,168.6 L294.1,167.7 L293.4,166.9 L292.7,166.0 L292.0,165.2 L291.3,164.3 L290.6,163.5 L290.0,162.7 L289.3,161.8 L288.6,160.9 L287.9,160.1 L287.2,159.2 L286.5,158.4 L285.9,157.5 L285.2,156.6 L284.5,155.8 L283.8,154.9 L283.1,154.0 L282.4,153.1 L281.7,152.2 L281.1,151.4 L280.4,150.5 L279.7,149.6 L279.0,148.7 L278.3,147.8 L277.6,146.9 L276.9,145.9 L276.2,145.0 L275.5,144.1 L274.8,143.2 L274.1,142.2 L273.4,141.3 L272.7,140.4 L272.0,139.5 L271.3,138.5 L270.5,137.6 L269.8,136.7 L269.1,135.8 L268.3,134.9 L267.6,134.0 L266.8,133.1 L266.1,132.3 L265.3,131.4 L264.5,130.6 L263.7,129.8 L262.9,128.9 L262.1,128.2 L261.3,127.4 L260.5,126.6 L259.7,125.9 L258.8,125.2 L258.0,124.5 L257.1,123.8 L256.2,123.2 L255.3,122.6 L254.4,122.0 L253.5,121.5 L252.6,121.0 L251.7,120.5 L250.7,120.0 L249.7,119.6 L248.8,119.2 L247.8,118.9 L246.7,118.6 L245.7,118.3 L244.7,118.1 L243.6,117.9 L242.6,117.8 L241.5,117.7 L240.5,117.7 L239.4,117.7 L238.4,117.8 L237.3,117.9 L236.3,118.1 L235.3,118.4 L234.3,118.7 L233.3,119.1 L232.3,119.5 L231.4,120.0 L230.4,120.5 L229.5,121.1 L228.6,121.7 L227.7,122.4 L226.8,123.1 L225.9,123.8 L225.0,124.5 L224.2,125.3 L223.3,126.1 L222.5,126.9 L221.7,127.7 L220.9,128.5 L220.1,129.3 L219.3,130.1 L218.5,131.0 L217.8,131.8 L217.0,132.7 L216.3,133.5 L215.6,134.4 L214.8,135.2 L214.1,136.1 L213.4,137.0 L212.7,137.9 L212.1,138.8 L211.4,139.7 L210.7,140.6 L210.1,141.5 L209.4,142.4 L208.8,143.3 L208.1,144.2 L207.5,145.1 L206.8,146.1 L206.2,147.0 L205.6,147.9 L205.0,148.8 L204.4,149.8 L203.8,150.7 L203.2,151.7 L202.6,152.6 L202.0,153.6 L201.4,154.5 L200.8,155.5 L200.2,156.4 L199.6,157.4 L199.0,158.3 L198.4,159.3 L197.8,160.2 L197.3,161.2 L196.7,162.1 L196.1,163.1 L195.5,164.0 L194.9,165.0 L194.3,165.9 L193.7,166.9 L193.1,167.8 L192.5,168.8 L191.9,169.7 L191.3,170.7 L190.7,171.6 L190.1,172.5 L189.5,173.5 L188.9,174.4 L188.3,175.4 L187.7,176.3 L187.0,177.2 L186.4,178.1 L185.8,179.1 L185.2,180.0 L184.5,180.9 L183.9,181.8 L183.3,182.7 L182.6,183.7 L182.0,184.6 L181.3,185.5 L180.7,186.4 L180.0,187.3 L179.4,188.2 L178.7,189.1 L178.0,190.0 L177.4,190.9 L176.7,191.8 L176.0,192.7 L175.3,193.6 L174.7,194.4 L174.0,195.3 L173.3,196.2 L172.6,197.1 L171.9,198.0 L171.2,198.8 L170.5,199.7 L169.8,200.6 L169.1,201.4 L168.4,202.3 L167.7,203.2 L167.0,204.0 L166.3,204.9 L165.5,205.7 L164.8,206.6 L164.1,207.4 L163.3,208.2 L162.6,209.1 L161.9,209.9 L161.1,210.8 L160.4,211.6 L159.6,212.4 L158.9,213.2 L158.1,214.1 L157.4,214.9 L156.6,215.7 L155.8,216.5 L155.1,217.3 L154.3,218.1 L153.5,218.9 L152.8,219.7 L152.0,220.5 L151.2,221.3 L150.4,222.1 L149.6,222.9 L148.8,223.6 L148.0,224.4 L147.2,225.2 L146.4,226.0 L145.6,226.7 L144.8,227.5 L144.0,228.2 L143.1,229.0 L142.3,229.8 L141.5,230.5 L140.7,231.2 L139.8,232.0 L139.0,232.7 L138.2,233.5 L137.3,234.2 L136.5,234.9 L135.6,235.6 L134.7,236.4 L133.9,237.1 L133.0,237.8 L132.2,238.5 L131.3,239.2 L130.4,239.9 L129.5,240.6 L128.7,241.3 L127.8,242.0 L126.9,242.6 L126.0,243.3 L125.1,244.0 L124.2,244.6 L123.3,245.3 L122.4,245.9 L121.4,246.5 L120.5,247.2 L119.6,247.8 L118.7,248.4 L117.7,249.0 L116.8,249.5 L115.8,250.1 L114.9,250.7 L113.9,251.2 L112.9,251.8 L111.9,252.3 L111.0,252.8 L110.0,253.3 L109.0,253.8 L108.0,254.2 L106.9,254.7 L105.9,255.1 L104.9,255.5 L103.9,255.9 L102.8,256.3 L101.8,256.7 L100.7,257.0 L99.6,257.4 L98.6,257.7 L97.5,258.0 L96.4,258.3 L95.3,258.6 L94.2,258.8 L93.1,259.1 L92.0,259.4 L90.9,259.6 L89.8,259.8 L88.7,260.0 L87.6,260.3 L86.5,260.5 L85.4,260.7 L84.3,260.9 L83.2,261.1 L82.1,261.3 L81.0,261.4 L79.8,261.6 L78.7,261.8 L77.6,262.0 L76.5,262.1 L75.4,262.3 L74.4,262.5 L73.3,262.7 L72.2,262.9 L71.1,263.0 L70.0,263.2Z" fill="url(#gBlue)"/>
<g clip-path="url(#cBlue)">
<path d="M68.5,263.5 L70.2,263.1 L71.9,262.6 L73.6,262.2 L75.3,261.8 L77.1,261.4 L78.8,261.0 L80.6,260.6 L82.4,260.2 L84.2,259.8 L85.9,259.4 L87.7,258.9 L89.5,258.5 L91.3,258.0 L93.0,257.5 L94.8,257.0 L96.5,256.4 L98.3,255.9 L100.0,255.3 L101.7,254.6 L103.4,254.0 L105.1,253.3 L106.7,252.5 L108.4,251.8 L110.0,251.0 L111.6,250.1 L113.1,249.3 L114.7,248.4 L116.2,247.5 L117.8,246.5 L119.3,245.5 L120.7,244.5 L122.2,243.5 L123.7,242.4 L125.1,241.3 L126.5,240.2 L128.0,239.1 L129.3,237.9 L130.7,236.8 L132.1,235.6 L133.5,234.4 L134.8,233.1 L136.1,231.9 L137.4,230.6 L138.8,229.4 L140.0,228.1 L141.3,226.8 L142.6,225.5 L143.9,224.2 L145.1,222.8 L146.4,221.5 L147.6,220.1 L148.8,218.8 L150.0,217.4 L151.2,216.1 L152.4,214.7 L153.6,213.3 L154.8,211.9 L156.0,210.6 L157.1,209.2 L158.3,207.8 L159.4,206.4 L160.6,205.0 L161.7,203.5 L162.8,202.1 L163.9,200.7 L165.0,199.3 L166.1,197.8 L167.2,196.4 L168.3,194.9 L169.4,193.5 L170.5,192.0 L171.5,190.6 L172.6,189.1 L173.6,187.6 L174.7,186.1 L175.7,184.7 L176.7,183.2 L177.7,181.7 L178.8,180.2 L179.8,178.7 L180.8,177.2 L181.8,175.7 L182.7,174.2 L183.7,172.6 L184.7,171.1 L185.7,169.6 L186.6,168.1 L187.6,166.5 L188.5,165.0 L189.5,163.4 L190.4,161.9 L191.4,160.3 L192.3,158.8 L193.2,157.2 L194.1,155.7 L195.0,154.1 L195.9,152.5 L196.9,151.0 L197.7,149.4 L198.6,147.8 L199.5,146.2 L200.4,144.6 L201.3,143.0 L202.2,141.5 L203.0,139.9 L203.9,138.3 L204.7,136.7 L205.6,135.1 L206.5,133.4 L207.3,131.8 L208.1,130.2 L209.0,128.6 L209.8,127.0 L210.6,125.4 L211.5,123.7 L212.3,122.1 L213.1,120.5 L213.9,118.9 L214.7,117.2 L215.6,115.6 L216.4,113.9 L217.2,112.3 L218.0,110.7 L218.8,109.0 L219.6,107.4 L220.4,105.8 L221.2,104.1 L222.0,102.5 L222.9,100.9 L223.7,99.3 L224.6,97.7 L225.4,96.1 L226.3,94.5 L227.2,92.9 L228.1,91.4 L229.1,89.8 L230.0,88.3 L231.0,86.8 L232.0,85.3 L233.0,83.8 L234.1,82.4 L235.2,81.0 L236.3,79.6 L237.5,78.2 L238.7,76.8 L239.9,75.5 L241.1,74.2 L242.4,72.9 L243.8,71.7 L245.1,70.5 L246.5,69.4 L248.0,68.4 L249.5,67.4 L251.1,66.6 L252.7,65.9 L254.3,65.4 L256.0,65.0 L257.8,64.7 L259.6,64.6 L261.4,64.7 L263.2,64.9 L265.0,65.2 L266.7,65.6 L268.4,66.2 L270.1,66.8 L271.8,67.6 L273.4,68.4 L275.0,69.3 L276.5,70.3 L278.1,71.3 L279.5,72.4 L281.0,73.6 L282.4,74.8 L283.8,76.1 L285.1,77.4 L286.4,78.7 L287.7,80.1 L288.9,81.5 L290.1,82.9 L291.3,84.3 L292.5,85.7 L293.6,87.1 L294.7,88.5 L295.8,89.9 L296.9,91.3 L297.9,92.7 L299.0,94.1 L300.1,95.5 L301.2,96.9 L302.3,98.3 L303.4,99.7 L304.5,101.1 L305.7,102.5 L306.9,103.8 L308.1,105.2 L309.3,106.5 L310.6,107.8 L312.0,109.1 L313.4,110.4 L313.4,110.2 L314.5,109.1 L315.6,108.0 L316.7,106.9 L317.7,105.7 L318.8,104.6 L319.8,103.4 L320.8,102.2 L321.8,101.1 L322.8,99.9 L323.9,98.7 L324.9,97.5 L325.9,96.2 L327.0,95.0 L328.1,93.8 L329.2,92.6 L330.3,91.4 L331.5,90.3 L332.7,89.2 L333.9,88.1 L335.2,87.0 L336.5,86.0 L337.8,85.1 L339.2,84.2 L340.6,83.4 L342.0,82.7 L343.5,82.0 L345.0,81.4 L346.6,81.0 L348.1,80.6 L349.7,80.4 L351.2,80.2 L352.8,80.2 L354.3,80.3 L355.8,80.6 L357.2,81.0 L358.6,81.5 L359.9,82.1 L361.2,82.8 L362.5,83.6 L363.8,84.5 L365.0,85.5 L366.2,86.5 L367.3,87.6 L368.5,88.7 L369.6,89.9 L370.7,91.0 L371.8,92.2 L372.9,93.4 L374.0,94.6 L375.0,95.8 L376.0,97.0 L377.1,98.2 L378.1,99.5 L379.1,100.7 L380.1,101.9 L381.1,103.2 L382.0,104.5 L383.0,105.7 L384.0,107.0 L384.9,108.3 L385.8,109.6 L386.8,110.9 L387.7,112.2 L388.6,113.5 L389.5,114.8 L390.4,116.1 L391.3,117.4 L392.1,118.8 L393.0,120.1 L393.9,121.4 L394.8,122.8 L395.6,124.1 L396.5,125.4 L397.3,126.8 L398.2,128.1 L399.0,129.5 L399.9,130.8 L400.7,132.2 L401.5,133.5 L402.4,134.9 L403.2,136.2 L404.1,137.6 L404.9,138.9 L405.7,140.3 L406.6,141.6 L407.4,143.0 L408.3,144.3 L409.1,145.7 L410.0,147.0 L410.8,148.3 L411.7,149.7 L412.5,151.0 L413.4,152.3 L414.2,153.7 L415.1,155.0 L416.0,156.3 L416.9,157.6 L417.8,158.9 L418.7,160.2 L419.6,161.5 L420.5,162.8 L421.4,164.1 L422.3,165.4 L423.2,166.7 L424.2,167.9 L425.1,169.2 L426.1,170.4 L427.1,171.7 L428.0,172.9 L429.0,174.2 L430.0,175.4 L431.0,176.6 L432.0,177.8 L433.1,179.0 L434.1,180.2 L435.1,181.4 L436.2,182.6 L437.2,183.8 L438.3,184.9 L439.3,186.1 L440.4,187.3 L441.5,188.4 L442.6,189.6 L443.7,190.7 L444.8,191.9 L445.9,193.0 L447.0,194.1 L448.1,195.2 L449.2,196.4 L450.4,197.5 L451.5,198.6 L452.6,199.7 L453.8,200.8 L454.9,201.9 L456.1,203.0 L457.3,204.1 L458.4,205.2 L459.6,206.3 L460.8,207.3 L461.9,208.4 L463.1,209.5 L464.3,210.6 L465.5,211.6 L466.7,212.7 L467.9,213.7 L469.1,214.8 L470.3,215.9 L471.5,216.9 L472.7,218.0 L473.9,219.0 L475.1,220.1 L476.3,221.1 L477.6,222.1 L478.8,223.2 L480.0,224.2 L481.2,225.2 L482.4,226.3 L483.7,227.3 L484.9,228.3 L486.1,229.4 L487.4,230.4 L488.6,231.4 L489.9,232.4 L491.1,233.3 L492.4,234.3 L493.6,235.3 L494.9,236.2 L496.2,237.1 L497.5,238.0 L498.8,238.9 L500.1,239.8 L501.4,240.7 L502.7,241.5 L504.0,242.3 L505.4,243.1 L506.7,243.8 L508.1,244.6 L509.5,245.3 L510.9,245.9 L512.3,246.6 L513.7,247.2 L515.1,247.8 L516.6,248.3 L518.1,248.8 L519.5,249.3 L521.0,249.8 L522.6,250.2 L524.1,250.5 L525.6,250.8 L527.2,251.1 L528.8,251.4 L530.4,251.5 L532.0,251.7 L533.7,251.8 L535.3,251.8 L537.0,251.9 L538.7,251.8 L540.5,251.7 L542.2,251.6" fill="none" stroke="#3c3cb0" stroke-opacity="0.45" stroke-width="5" filter="url(#b2)"/>
<path d="M68.5,263.5 L70.2,263.1 L71.9,262.6 L73.6,262.2 L75.3,261.8 L77.1,261.4 L78.8,261.0 L80.6,260.6 L82.4,260.2 L84.2,259.8 L85.9,259.4 L87.7,258.9 L89.5,258.5 L91.3,258.0 L93.0,257.5 L94.8,257.0 L96.5,256.4 L98.3,255.9 L100.0,255.3 L101.7,254.6 L103.4,254.0 L105.1,253.3 L106.7,252.5 L108.4,251.8 L110.0,251.0 L111.6,250.1 L113.1,249.3 L114.7,248.4 L116.2,247.5 L117.8,246.5 L119.3,245.5 L120.7,244.5 L122.2,243.5 L123.7,242.4 L125.1,241.3 L126.5,240.2 L128.0,239.1 L129.3,237.9 L130.7,236.8 L132.1,235.6 L133.5,234.4 L134.8,233.1 L136.1,231.9 L137.4,230.6 L138.8,229.4 L140.0,228.1 L141.3,226.8 L142.6,225.5 L143.9,224.2 L145.1,222.8 L146.4,221.5 L147.6,220.1 L148.8,218.8 L150.0,217.4 L151.2,216.1 L152.4,214.7 L153.6,213.3 L154.8,211.9 L156.0,210.6 L157.1,209.2 L158.3,207.8 L159.4,206.4 L160.6,205.0 L161.7,203.5 L162.8,202.1 L163.9,200.7 L165.0,199.3 L166.1,197.8 L167.2,196.4 L168.3,194.9 L169.4,193.5 L170.5,192.0 L171.5,190.6 L172.6,189.1 L173.6,187.6 L174.7,186.1 L175.7,184.7 L176.7,183.2 L177.7,181.7 L178.8,180.2 L179.8,178.7 L180.8,177.2 L181.8,175.7 L182.7,174.2 L183.7,172.6 L184.7,171.1 L185.7,169.6 L186.6,168.1 L187.6,166.5 L188.5,165.0 L189.5,163.4 L190.4,161.9 L191.4,160.3 L192.3,158.8 L193.2,157.2 L194.1,155.7 L195.0,154.1 L195.9,152.5 L196.9,151.0 L197.7,149.4 L198.6,147.8 L199.5,146.2 L200.4,144.6 L201.3,143.0 L202.2,141.5 L203.0,139.9 L203.9,138.3 L204.7,136.7 L205.6,135.1 L206.5,133.4 L207.3,131.8 L208.1,130.2 L209.0,128.6 L209.8,127.0 L210.6,125.4 L211.5,123.7 L212.3,122.1 L213.1,120.5 L213.9,118.9 L214.7,117.2 L215.6,115.6 L216.4,113.9 L217.2,112.3 L218.0,110.7 L218.8,109.0 L219.6,107.4 L220.4,105.8 L221.2,104.1 L222.0,102.5 L222.9,100.9 L223.7,99.3 L224.6,97.7 L225.4,96.1 L226.3,94.5 L227.2,92.9 L228.1,91.4 L229.1,89.8 L230.0,88.3 L231.0,86.8 L232.0,85.3 L233.0,83.8 L234.1,82.4 L235.2,81.0 L236.3,79.6 L237.5,78.2 L238.7,76.8 L239.9,75.5 L241.1,74.2 L242.4,72.9 L243.8,71.7 L245.1,70.5 L246.5,69.4 L248.0,68.4 L249.5,67.4 L251.1,66.6 L252.7,65.9 L254.3,65.4 L256.0,65.0 L257.8,64.7 L259.6,64.6 L261.4,64.7 L263.2,64.9 L265.0,65.2 L266.7,65.6 L268.4,66.2 L270.1,66.8 L271.8,67.6 L273.4,68.4 L275.0,69.3 L276.5,70.3 L278.1,71.3 L279.5,72.4 L281.0,73.6 L282.4,74.8 L283.8,76.1 L285.1,77.4 L286.4,78.7 L287.7,80.1 L288.9,81.5 L290.1,82.9 L291.3,84.3 L292.5,85.7 L293.6,87.1 L294.7,88.5 L295.8,89.9 L296.9,91.3 L297.9,92.7 L299.0,94.1 L300.1,95.5 L301.2,96.9 L302.3,98.3 L303.4,99.7 L304.5,101.1 L305.7,102.5 L306.9,103.8 L308.1,105.2 L309.3,106.5 L310.6,107.8 L312.0,109.1 L313.4,110.4 L313.4,110.2 L314.5,109.1 L315.6,108.0 L316.7,106.9 L317.7,105.7 L318.8,104.6 L319.8,103.4 L320.8,102.2 L321.8,101.1 L322.8,99.9 L323.9,98.7 L324.9,97.5 L325.9,96.2 L327.0,95.0 L328.1,93.8 L329.2,92.6 L330.3,91.4 L331.5,90.3 L332.7,89.2 L333.9,88.1 L335.2,87.0 L336.5,86.0 L337.8,85.1 L339.2,84.2 L340.6,83.4 L342.0,82.7 L343.5,82.0 L345.0,81.4 L346.6,81.0 L348.1,80.6 L349.7,80.4 L351.2,80.2 L352.8,80.2 L354.3,80.3 L355.8,80.6 L357.2,81.0 L358.6,81.5 L359.9,82.1 L361.2,82.8 L362.5,83.6 L363.8,84.5 L365.0,85.5 L366.2,86.5 L367.3,87.6 L368.5,88.7 L369.6,89.9 L370.7,91.0 L371.8,92.2 L372.9,93.4 L374.0,94.6 L375.0,95.8 L376.0,97.0 L377.1,98.2 L378.1,99.5 L379.1,100.7 L380.1,101.9 L381.1,103.2 L382.0,104.5 L383.0,105.7 L384.0,107.0 L384.9,108.3 L385.8,109.6 L386.8,110.9 L387.7,112.2 L388.6,113.5 L389.5,114.8 L390.4,116.1 L391.3,117.4 L392.1,118.8 L393.0,120.1 L393.9,121.4 L394.8,122.8 L395.6,124.1 L396.5,125.4 L397.3,126.8 L398.2,128.1 L399.0,129.5 L399.9,130.8 L400.7,132.2 L401.5,133.5 L402.4,134.9 L403.2,136.2 L404.1,137.6 L404.9,138.9 L405.7,140.3 L406.6,141.6 L407.4,143.0 L408.3,144.3 L409.1,145.7 L410.0,147.0 L410.8,148.3 L411.7,149.7 L412.5,151.0 L413.4,152.3 L414.2,153.7 L415.1,155.0 L416.0,156.3 L416.9,157.6 L417.8,158.9 L418.7,160.2 L419.6,161.5 L420.5,162.8 L421.4,164.1 L422.3,165.4 L423.2,166.7 L424.2,167.9 L425.1,169.2 L426.1,170.4 L427.1,171.7 L428.0,172.9 L429.0,174.2 L430.0,175.4 L431.0,176.6 L432.0,177.8 L433.1,179.0 L434.1,180.2 L435.1,181.4 L436.2,182.6 L437.2,183.8 L438.3,184.9 L439.3,186.1 L440.4,187.3 L441.5,188.4 L442.6,189.6 L443.7,190.7 L444.8,191.9 L445.9,193.0 L447.0,194.1 L448.1,195.2 L449.2,196.4 L450.4,197.5 L451.5,198.6 L452.6,199.7 L453.8,200.8 L454.9,201.9 L456.1,203.0 L457.3,204.1 L458.4,205.2 L459.6,206.3 L460.8,207.3 L461.9,208.4 L463.1,209.5 L464.3,210.6 L465.5,211.6 L466.7,212.7 L467.9,213.7 L469.1,214.8 L470.3,215.9 L471.5,216.9 L472.7,218.0 L473.9,219.0 L475.1,220.1 L476.3,221.1 L477.6,222.1 L478.8,223.2 L480.0,224.2 L481.2,225.2 L482.4,226.3 L483.7,227.3 L484.9,228.3 L486.1,229.4 L487.4,230.4 L488.6,231.4 L489.9,232.4 L491.1,233.3 L492.4,234.3 L493.6,235.3 L494.9,236.2 L496.2,237.1 L497.5,238.0 L498.8,238.9 L500.1,239.8 L501.4,240.7 L502.7,241.5 L504.0,242.3 L505.4,243.1 L506.7,243.8 L508.1,244.6 L509.5,245.3 L510.9,245.9 L512.3,246.6 L513.7,247.2 L515.1,247.8 L516.6,248.3 L518.1,248.8 L519.5,249.3 L521.0,249.8 L522.6,250.2 L524.1,250.5 L525.6,250.8 L527.2,251.1 L528.8,251.4 L530.4,251.5 L532.0,251.7 L533.7,251.8 L535.3,251.8 L537.0,251.9 L538.7,251.8 L540.5,251.7 L542.2,251.6" fill="none" stroke="#4a4ab4" stroke-width="1.4"/>
<ellipse cx="315" cy="172" rx="32" ry="14" fill="#a0a0f4" fill-opacity="0.5" filter="url(#b4)"/>
</g>
<path d="M70.0,263.2 L71.1,263.0 L72.2,262.9 L73.3,262.7 L74.4,262.5 L75.4,262.3 L76.5,262.1 L77.6,262.0 L78.7,261.8 L79.8,261.6 L81.0,261.4 L82.1,261.3 L83.2,261.1 L84.3,260.9 L85.4,260.7 L86.5,260.5 L87.6,260.3 L88.7,260.0 L89.8,259.8 L90.9,259.6 L92.0,259.4 L93.1,259.1 L94.2,258.8 L95.3,258.6 L96.4,258.3 L97.5,258.0 L98.6,257.7 L99.6,257.4 L100.7,257.0 L101.8,256.7 L102.8,256.3 L103.9,255.9 L104.9,255.5 L105.9,255.1 L106.9,254.7 L108.0,254.2 L109.0,253.8 L110.0,253.3 L111.0,252.8 L111.9,252.3 L112.9,251.8 L113.9,251.2 L114.9,250.7 L115.8,250.1 L116.8,249.5 L117.7,249.0 L118.7,248.4 L119.6,247.8 L120.5,247.2 L121.4,246.5 L122.4,245.9 L123.3,245.3 L124.2,244.6 L125.1,244.0 L126.0,243.3 L126.9,242.6 L127.8,242.0 L128.7,241.3 L129.5,240.6 L130.4,239.9 L131.3,239.2 L132.2,238.5 L133.0,237.8 L133.9,237.1 L134.7,236.4 L135.6,235.6 L136.5,234.9 L137.3,234.2 L138.2,233.5 L139.0,232.7 L139.8,232.0 L140.7,231.2 L141.5,230.5 L142.3,229.8 L143.1,229.0 L144.0,228.2 L144.8,227.5 L145.6,226.7 L146.4,226.0 L147.2,225.2 L148.0,224.4 L148.8,223.6 L149.6,222.9 L150.4,222.1 L151.2,221.3 L152.0,220.5 L152.8,219.7 L153.5,218.9 L154.3,218.1 L155.1,217.3 L155.8,216.5 L156.6,215.7 L157.4,214.9 L158.1,214.1 L158.9,213.2 L159.6,212.4 L160.4,211.6 L161.1,210.8 L161.9,209.9 L162.6,209.1 L163.3,208.2 L164.1,207.4 L164.8,206.6 L165.5,205.7 L166.3,204.9 L167.0,204.0 L167.7,203.2 L168.4,202.3 L169.1,201.4 L169.8,200.6 L170.5,199.7 L171.2,198.8 L171.9,198.0 L172.6,197.1 L173.3,196.2 L174.0,195.3 L174.7,194.4 L175.3,193.6 L176.0,192.7 L176.7,191.8 L177.4,190.9 L178.0,190.0 L178.7,189.1 L179.4,188.2 L180.0,187.3 L180.7,186.4 L181.3,185.5 L182.0,184.6 L182.6,183.7 L183.3,182.7 L183.9,181.8 L184.5,180.9 L185.2,180.0 L185.8,179.1 L186.4,178.1 L187.0,177.2 L187.7,176.3 L188.3,175.4 L188.9,174.4 L189.5,173.5 L190.1,172.5 L190.7,171.6 L191.3,170.7 L191.9,169.7 L192.5,168.8 L193.1,167.8 L193.7,166.9 L194.3,165.9 L194.9,165.0 L195.5,164.0 L196.1,163.1 L196.7,162.1 L197.3,161.2 L197.8,160.2 L198.4,159.3 L199.0,158.3 L199.6,157.4 L200.2,156.4 L200.8,155.5 L201.4,154.5 L202.0,153.6 L202.6,152.6 L203.2,151.7 L203.8,150.7 L204.4,149.8 L205.0,148.8 L205.6,147.9 L206.2,147.0 L206.8,146.1 L207.5,145.1 L208.1,144.2 L208.8,143.3 L209.4,142.4 L210.1,141.5 L210.7,140.6 L211.4,139.7 L212.1,138.8 L212.7,137.9 L213.4,137.0 L214.1,136.1 L214.8,135.2 L215.6,134.4 L216.3,133.5 L217.0,132.7 L217.8,131.8 L218.5,131.0 L219.3,130.1 L220.1,129.3 L220.9,128.5 L221.7,127.7 L222.5,126.9 L223.3,126.1 L224.2,125.3 L225.0,124.5 L225.9,123.8 L226.8,123.1 L227.7,122.4 L228.6,121.7 L229.5,121.1 L230.4,120.5 L231.4,120.0 L232.3,119.5 L233.3,119.1 L234.3,118.7 L235.3,118.4 L236.3,118.1 L237.3,117.9 L238.4,117.8 L239.4,117.7 L240.5,117.7 L241.5,117.7 L242.6,117.8 L243.6,117.9 L244.7,118.1 L245.7,118.3 L246.7,118.6 L247.8,118.9 L248.8,119.2 L249.7,119.6 L250.7,120.0 L251.7,120.5 L252.6,121.0 L253.5,121.5 L254.4,122.0 L255.3,122.6 L256.2,123.2 L257.1,123.8 L258.0,124.5 L258.8,125.2 L259.7,125.9 L260.5,126.6 L261.3,127.4 L262.1,128.2 L262.9,128.9 L263.7,129.8 L264.5,130.6 L265.3,131.4 L266.1,132.3 L266.8,133.1 L267.6,134.0 L268.3,134.9 L269.1,135.8 L269.8,136.7 L270.5,137.6 L271.3,138.5 L272.0,139.5 L272.7,140.4 L273.4,141.3 L274.1,142.2 L274.8,143.2 L275.5,144.1 L276.2,145.0 L276.9,145.9 L277.6,146.9 L278.3,147.8 L279.0,148.7 L279.7,149.6 L280.4,150.5 L281.1,151.4 L281.7,152.2 L282.4,153.1 L283.1,154.0 L283.8,154.9 L284.5,155.8 L285.2,156.6 L285.9,157.5 L286.5,158.4 L287.2,159.2 L287.9,160.1 L288.6,160.9 L289.3,161.8 L290.0,162.7 L290.6,163.5 L291.3,164.3 L292.0,165.2 L292.7,166.0 L293.4,166.9 L294.1,167.7 L294.8,168.6 L295.5,169.4 L296.2,170.2 L296.9,171.1 L297.6,171.9 L298.3,172.7 L299.0,173.6 L299.7,174.4 L300.4,175.2 L301.2,176.1 L301.9,176.9 L302.6,177.7 L303.3,178.5 L304.1,179.4 L304.8,180.2 L305.5,181.0 L306.3,181.9 L307.0,182.7 L307.8,183.5 L308.5,184.4 L309.3,185.2 L310.1,186.0 L310.8,186.8 L311.6,187.7 L312.4,188.5 L313.2,189.3 L314.0,190.1 L314.8,190.9 L315.6,191.7 L316.4,192.5 L317.3,193.2 L318.1,194.0 L319.0,194.7 L319.8,195.5 L320.7,196.2 L321.5,196.9 L321.3,196.7 L320.7,197.6 L320.1,198.5 L319.5,199.4 L318.9,200.3 L318.3,201.2 L317.7,202.1 L317.0,203.0 L316.4,203.9 L315.8,204.8 L315.2,205.7 L314.5,206.6 L313.9,207.5 L313.3,208.4 L312.6,209.3 L312.0,210.1 L311.3,211.0 L310.7,211.9 L310.0,212.8 L309.4,213.7 L308.7,214.6 L308.1,215.4 L307.4,216.3 L306.7,217.2 L306.0,218.1 L305.4,218.9 L304.7,219.8 L304.0,220.7 L303.3,221.5 L302.6,222.4 L301.9,223.2 L301.2,224.1 L300.5,225.0 L299.7,225.8 L299.0,226.7 L298.3,227.5 L297.6,228.4 L296.8,229.2 L296.1,230.1 L295.3,230.9 L294.6,231.7 L293.9,232.6 L293.1,233.4 L292.4,234.3 L291.6,235.1 L290.8,235.9 L290.1,236.8 L289.3,237.6 L288.6,238.4 L287.8,239.2 L287.0,240.1 L286.3,240.9 L285.5,241.7 L284.7,242.5 L284.0,243.3 L283.2,244.1 L282.4,244.9 L281.7,245.7 L280.9,246.6 L280.1,247.4 L279.3,248.2 L278.6,248.9 L277.8,249.7 L277.0,250.5 L276.2,251.3 L275.4,252.1 L274.6,252.9 L273.9,253.6 L273.1,254.4 L272.3,255.1 L271.5,255.9 L270.6,256.6 L269.8,257.4 L269.0,258.1 L268.2,258.8 L267.4,259.6 L266.5,260.3 L265.7,261.0 L264.8,261.7 L264.0,262.3 L263.1,263.0 L262.2,263.7 L261.3,264.3 L260.4,265.0 L259.6,265.6 L258.6,266.2 L257.7,266.9 L256.8,267.5 L255.9,268.1 L255.0,268.7 L254.0,269.3 L253.1,269.8 L252.1,270.4 L251.2,271.0 L250.2,271.5 L249.3,272.1 L248.3,272.6 L247.3,273.1 L246.3,273.6 L245.3,274.2 L244.4,274.7 L243.4,275.2 L242.4,275.6 L241.4,276.1 L240.3,276.6 L239.3,277.1 L238.3,277.5 L237.3,278.0 L236.3,278.4 L235.2,278.9 L234.2,279.3 L233.2,279.7 L232.1,280.1 L231.1,280.5 L230.1,280.9 L229.0,281.3 L228.0,281.7 L226.9,282.1 L225.9,282.5 L224.8,282.8 L223.8,283.2 L222.7,283.5 L221.6,283.9 L220.6,284.2 L219.5,284.6 L218.5,284.9 L217.4,285.2 L216.3,285.5 L215.3,285.9 L214.2,286.2 L213.1,286.5 L212.1,286.8 L211.0,287.0 L210.0,287.3 L208.9,287.6 L207.8,287.9 L206.8,288.1 L205.7,288.4 L204.6,288.7 L203.6,288.9 L202.1,289.1 L200.7,288.8 L199.4,288.6 L198.0,288.4 L196.6,288.2 L195.2,288.1 L193.8,288.0 L192.5,288.0 L191.1,288.0 L189.6,288.0 L188.2,288.0 L186.8,288.1 L185.4,288.1 L184.0,288.2 L182.6,288.4 L181.1,288.5 L179.7,288.7 L178.3,288.9 L176.8,289.1 L175.4,289.3 L174.0,289.5 L172.5,289.7 L171.1,289.9 L169.6,290.2 L168.2,290.4 L166.8,290.7 L165.3,290.9 L163.9,291.2 L162.4,291.4 L161.0,291.6 L159.6,291.9 L158.1,292.1 L156.7,292.3 L155.3,292.5 L153.8,292.7 L152.4,292.9 L151.0,293.0 L149.5,293.2 L148.1,293.3 L146.7,293.4 L145.3,293.5 L143.9,293.5 L142.5,293.6 L141.1,293.6 L139.7,293.5 L138.3,293.5 L136.9,293.4 L135.5,293.3 L134.1,293.1 L132.8,292.9 L131.4,292.7 L130.0,292.4 L128.7,292.1 L127.3,291.8 L126.0,291.4 L124.7,291.0 L123.3,290.6 L122.0,290.1 L120.7,289.6 L119.4,289.1 L118.1,288.6 L116.8,288.1 L115.5,287.5 L114.2,286.9 L112.9,286.3 L111.6,285.6 L110.3,285.0 L109.1,284.3 L107.8,283.6 L106.5,282.9 L105.3,282.2 L104.0,281.4 L102.8,280.7 L101.6,279.9 L100.3,279.2 L99.1,278.4 L97.9,277.6 L96.6,276.8 L95.4,276.1 L94.2,275.3 L93.0,274.5 L91.7,273.8 L90.5,273.0 L89.3,272.3 L88.0,271.6 L86.8,270.9 L85.5,270.3 L84.2,269.7 L83.0,269.1 L81.7,268.5 L80.4,268.0 L79.1,267.5 L77.8,267.0 L76.5,266.6 L75.1,266.2 L73.7,265.9 L72.4,265.6 L71.0,265.4 L69.6,265.3 L68.1,265.2Z" fill="url(#gPurple)"/>
<path d="M321.3,196.7 L321.9,195.8 L322.5,194.9 L323.2,193.9 L323.8,193.0 L324.4,192.1 L325.0,191.2 L325.6,190.3 L326.2,189.4 L326.8,188.4 L327.4,187.5 L328.0,186.6 L328.6,185.7 L329.2,184.7 L329.8,183.8 L330.4,182.9 L331.0,182.0 L331.6,181.0 L332.2,180.1 L332.8,179.2 L333.4,178.2 L334.1,177.3 L334.7,176.4 L335.3,175.4 L335.9,174.5 L336.5,173.6 L337.2,172.6 L337.8,171.7 L338.4,170.7 L339.0,169.8 L339.7,168.8 L340.3,167.9 L340.9,167.0 L341.6,166.0 L342.2,165.1 L342.9,164.1 L343.5,163.2 L344.2,162.2 L344.9,161.3 L345.5,160.3 L346.2,159.4 L346.9,158.4 L347.6,157.5 L348.3,156.6 L348.9,155.7 L349.7,154.8 L350.4,153.9 L351.1,153.0 L351.8,152.1 L352.6,151.3 L353.3,150.5 L354.1,149.7 L354.9,148.9 L355.7,148.1 L356.5,147.4 L357.3,146.7 L358.2,146.1 L359.0,145.5 L359.9,144.9 L360.8,144.3 L361.7,143.8 L362.7,143.3 L363.6,142.9 L364.6,142.5 L365.6,142.1 L366.6,141.8 L367.6,141.6 L368.6,141.4 L369.7,141.2 L370.8,141.1 L371.8,141.0 L372.9,141.0 L374.0,141.0 L375.1,141.1 L376.1,141.2 L377.2,141.4 L378.3,141.6 L379.3,141.8 L380.3,142.1 L381.4,142.5 L382.4,142.9 L383.3,143.3 L384.3,143.8 L385.3,144.3 L386.2,144.9 L387.1,145.5 L388.0,146.1 L388.8,146.8 L389.7,147.5 L390.5,148.2 L391.4,148.9 L392.2,149.7 L393.0,150.5 L393.8,151.3 L394.6,152.1 L395.3,153.0 L396.1,153.9 L396.9,154.7 L397.6,155.6 L398.4,156.5 L399.1,157.4 L399.8,158.3 L400.5,159.2 L401.3,160.1 L402.0,161.0 L402.7,161.9 L403.4,162.8 L404.1,163.7 L404.9,164.6 L405.6,165.4 L406.3,166.3 L407.0,167.2 L407.7,168.0 L408.4,168.9 L409.1,169.8 L409.8,170.6 L410.5,171.5 L411.2,172.3 L411.9,173.2 L412.6,174.0 L413.3,174.8 L414.0,175.7 L414.7,176.5 L415.4,177.4 L416.1,178.2 L416.8,179.0 L417.5,179.9 L418.2,180.7 L418.9,181.6 L419.6,182.4 L420.3,183.2 L421.0,184.1 L421.7,184.9 L422.4,185.8 L423.1,186.6 L423.8,187.5 L424.5,188.3 L425.2,189.2 L425.9,190.0 L426.6,190.9 L427.3,191.7 L428.0,192.6 L428.7,193.4 L429.4,194.3 L430.1,195.1 L430.8,196.0 L431.5,196.8 L432.2,197.7 L432.9,198.5 L433.6,199.4 L434.4,200.2 L435.1,201.1 L435.8,201.9 L436.5,202.8 L437.3,203.6 L438.0,204.4 L438.7,205.3 L439.4,206.1 L440.2,206.9 L440.9,207.8 L441.7,208.6 L442.4,209.4 L443.2,210.2 L443.9,211.1 L444.7,211.9 L445.5,212.7 L446.2,213.5 L447.0,214.3 L447.8,215.1 L448.6,215.9 L449.3,216.7 L450.1,217.5 L450.9,218.2 L451.7,219.0 L452.5,219.8 L453.3,220.5 L454.2,221.3 L455.0,222.0 L455.8,222.8 L456.6,223.5 L457.5,224.2 L458.3,225.0 L459.2,225.7 L460.0,226.4 L460.9,227.1 L461.7,227.8 L462.6,228.5 L463.5,229.2 L464.4,229.8 L465.3,230.5 L466.2,231.1 L467.1,231.8 L468.0,232.4 L468.9,233.1 L469.8,233.7 L470.7,234.3 L471.7,234.9 L472.6,235.5 L473.6,236.1 L474.5,236.7 L475.4,237.3 L476.4,237.8 L477.4,238.4 L478.3,238.9 L479.3,239.5 L480.3,240.0 L481.3,240.5 L482.2,241.0 L483.2,241.5 L484.2,242.0 L485.2,242.5 L486.2,243.0 L487.2,243.4 L488.2,243.9 L489.3,244.3 L490.3,244.7 L491.3,245.2 L492.3,245.6 L493.4,246.0 L494.4,246.4 L495.4,246.7 L496.5,247.1 L497.5,247.5 L498.6,247.8 L499.6,248.1 L500.7,248.5 L501.7,248.8 L502.8,249.1 L503.9,249.4 L504.9,249.7 L506.0,249.9 L507.1,250.2 L508.2,250.4 L509.2,250.7 L510.3,250.9 L511.4,251.1 L512.5,251.3 L513.6,251.5 L514.7,251.6 L515.8,251.8 L516.9,252.0 L518.0,252.1 L519.1,252.2 L520.2,252.3 L521.3,252.4 L522.4,252.5 L523.5,252.6 L524.6,252.6 L525.7,252.7 L526.8,252.7 L528.0,252.7 L529.1,252.7 L530.2,252.7 L531.3,252.7 L532.4,252.7 L533.6,252.6 L534.7,252.6 L535.8,252.5 L536.9,252.4 L538.1,252.3 L539.2,252.2 L540.8,249.9 L539.4,249.9 L538.1,250.0 L536.8,250.0 L535.4,250.1 L534.0,250.2 L532.7,250.3 L531.3,250.5 L529.9,250.6 L528.6,250.8 L527.2,251.0 L525.8,251.2 L524.4,251.4 L523.0,251.6 L521.6,251.8 L520.2,252.0 L518.8,252.3 L517.4,252.5 L516.0,252.8 L514.6,253.0 L513.2,253.3 L511.8,253.5 L510.4,253.8 L509.0,254.0 L507.6,254.3 L506.2,254.5 L504.7,254.8 L503.3,255.0 L501.9,255.2 L500.5,255.5 L499.1,255.7 L497.7,255.9 L496.3,256.1 L494.9,256.2 L493.5,256.4 L492.0,256.5 L490.6,256.7 L489.2,256.8 L487.8,256.8 L486.4,256.9 L485.1,257.0 L483.7,257.0 L482.3,257.0 L480.9,257.0 L479.5,256.9 L478.1,256.8 L476.8,256.7 L475.4,256.6 L474.0,256.4 L472.7,256.2 L471.3,256.0 L470.0,255.7 L468.7,255.4 L467.3,255.1 L466.0,254.8 L464.7,254.4 L463.3,254.0 L462.0,253.6 L460.7,253.1 L459.4,252.7 L458.1,252.2 L456.8,251.7 L455.5,251.2 L454.2,250.6 L452.9,250.1 L451.7,249.5 L450.4,248.9 L449.1,248.3 L447.9,247.7 L446.6,247.0 L445.3,246.3 L444.1,245.7 L442.8,245.0 L441.6,244.3 L440.4,243.6 L439.1,242.9 L437.9,242.2 L436.7,241.4 L435.5,240.7 L434.2,239.9 L433.0,239.2 L431.8,238.5 L430.6,237.7 L429.4,237.0 L428.2,236.3 L426.9,235.6 L425.7,234.9 L424.5,234.2 L423.3,233.5 L422.1,232.8 L420.8,232.2 L419.6,231.6 L418.4,230.9 L417.1,230.4 L415.9,229.8 L414.6,229.3 L413.3,228.8 L412.1,228.3 L410.8,227.8 L409.5,227.4 L408.5,228.8 L407.5,228.8 L406.4,228.9 L405.3,229.0 L404.2,229.0 L403.1,229.1 L402.0,229.1 L400.9,229.2 L399.8,229.2 L398.7,229.2 L397.6,229.3 L396.4,229.3 L395.3,229.3 L394.2,229.3 L393.1,229.3 L391.9,229.3 L390.8,229.2 L389.7,229.2 L388.5,229.2 L387.4,229.1 L386.3,229.0 L385.2,228.9 L384.0,228.8 L382.9,228.7 L381.8,228.6 L380.7,228.5 L379.6,228.3 L378.4,228.1 L377.3,228.0 L376.2,227.8 L375.1,227.5 L374.1,227.3 L373.0,227.0 L371.9,226.8 L370.8,226.5 L369.8,226.1 L368.7,225.8 L367.7,225.4 L366.6,225.0 L365.6,224.6 L364.6,224.2 L363.6,223.8 L362.6,223.3 L361.6,222.9 L360.6,222.4 L359.6,221.9 L358.6,221.3 L357.7,220.8 L356.7,220.3 L355.7,219.7 L354.8,219.2 L353.8,218.6 L352.9,218.0 L351.9,217.4 L351.0,216.8 L350.1,216.2 L349.1,215.6 L348.2,214.9 L347.3,214.3 L346.4,213.7 L345.5,213.1 L344.5,212.4 L343.6,211.8 L342.7,211.1 L341.8,210.5 L340.9,209.9 L340.0,209.2 L339.0,208.6 L338.1,208.0 L337.2,207.4 L336.3,206.8 L335.3,206.1 L334.4,205.5 L333.5,204.9 L332.5,204.4 L331.6,203.8 L330.7,203.2 L329.7,202.6 L328.8,202.0 L327.9,201.4 L327.0,200.8 L326.0,200.1 L325.1,199.5 L324.2,198.9 L323.3,198.2 L322.4,197.6 L321.5,196.9Z" fill="url(#gPink)"/>
<path d="M313.6,110.5 L312.8,111.7 L311.9,112.9 L311.0,114.0 L310.2,115.2 L309.3,116.4 L308.4,117.6 L307.5,118.8 L306.7,120.0 L305.8,121.2 L304.9,122.4 L304.0,123.5 L303.1,124.7 L302.2,125.9 L301.3,127.1 L300.3,128.3 L299.4,129.4 L298.5,130.6 L297.5,131.7 L296.6,132.9 L295.6,134.1 L294.7,135.2 L293.7,136.3 L292.7,137.5 L291.8,138.6 L290.8,139.7 L289.8,140.8 L288.8,141.9 L287.8,143.0 L286.7,144.1 L285.7,145.1 L284.7,146.2 L283.6,147.3 L282.5,148.3 L281.5,149.3 L280.4,150.3 L279.3,151.4 L278.2,152.3 L277.1,153.3 L276.0,154.3 L274.8,155.2 L273.7,156.2 L272.5,157.1 L271.4,158.0 L270.2,158.9 L269.0,159.8 L267.8,160.6 L266.6,161.5 L265.3,162.3 L264.1,163.1 L262.9,163.9 L261.6,164.7 L260.3,165.4 L259.0,166.2 L257.7,166.9 L256.4,167.6 L255.0,168.2 L253.7,168.9 L252.3,169.5 L250.9,170.1 L251.2,171.0 L252.7,170.2 L254.3,169.3 L255.9,168.5 L257.5,167.7 L259.1,167.0 L260.8,166.2 L262.4,165.4 L264.0,164.7 L265.6,164.0 L267.3,163.3 L268.9,162.6 L270.5,162.0 L272.2,161.3 L273.9,160.7 L275.5,160.1 L277.2,159.5 L278.8,159.0 L280.5,158.5 L282.2,157.9 L283.9,157.5 L285.6,157.0 L287.3,156.5 L289.0,156.1 L290.7,155.7 L292.4,155.4 L294.1,155.0 L295.9,154.7 L297.6,154.4 L299.4,154.1 L301.1,153.9 L302.8,153.7 L304.6,153.5 L306.4,153.3 L308.1,153.1 L309.9,153.0 L311.7,152.8 L313.4,152.7 L315.2,152.6 L317.0,152.5 L318.8,152.5 L320.6,152.4 L322.4,152.3 L324.1,152.3 L325.9,152.3 L327.7,152.2 L329.5,152.2 L331.3,152.2 L333.1,152.1 L334.8,152.1 L336.6,152.1 L338.4,152.0 L340.2,152.0 L341.9,152.0 L343.7,151.9 L345.5,151.9 L347.2,151.8 L349.0,151.7 L350.7,151.6 L352.5,151.5 L352.5,151.6 L351.9,150.9 L351.2,150.1 L350.6,149.4 L350.0,148.7 L349.3,148.0 L348.7,147.3 L348.0,146.6 L347.4,145.8 L346.7,145.1 L346.0,144.4 L345.4,143.8 L344.7,143.1 L344.0,142.4 L343.3,141.7 L342.7,141.0 L342.0,140.3 L341.3,139.6 L340.6,139.0 L339.9,138.3 L339.2,137.6 L338.6,136.9 L337.9,136.2 L337.2,135.6 L336.5,134.9 L335.8,134.2 L335.1,133.6 L334.4,132.9 L333.7,132.2 L333.0,131.5 L332.3,130.9 L331.6,130.2 L330.9,129.5 L330.3,128.8 L329.6,128.2 L328.9,127.5 L328.2,126.8 L327.5,126.1 L326.8,125.4 L326.2,124.7 L325.5,124.1 L324.8,123.4 L324.1,122.7 L323.5,122.0 L322.8,121.3 L322.2,120.6 L321.5,119.9 L320.8,119.2 L320.2,118.4 L319.6,117.7 L318.9,117.0 L318.3,116.3 L317.7,115.6 L317.0,114.8 L316.4,114.1 L315.8,113.3 L315.2,112.6 L314.6,111.8 L314.0,111.1 L313.4,110.3Z" fill="url(#gDark)" stroke="#2626a8" stroke-width="0.6"/>
<g clip-path="url(#cPurple)">
<path d="M313.6,110.5 L312.8,111.7 L311.9,112.9 L311.0,114.0 L310.2,115.2 L309.3,116.4 L308.4,117.6 L307.5,118.8 L306.7,120.0 L305.8,121.2 L304.9,122.4 L304.0,123.5 L303.1,124.7 L302.2,125.9 L301.3,127.1 L300.3,128.3 L299.4,129.4 L298.5,130.6 L297.5,131.7 L296.6,132.9 L295.6,134.1 L294.7,135.2 L293.7,136.3 L292.7,137.5 L291.8,138.6 L290.8,139.7 L289.8,140.8 L288.8,141.9 L287.8,143.0 L286.7,144.1 L285.7,145.1 L284.7,146.2 L283.6,147.3 L282.5,148.3 L281.5,149.3 L280.4,150.3 L279.3,151.4 L278.2,152.3 L277.1,153.3 L276.0,154.3 L274.8,155.2 L273.7,156.2 L272.5,157.1 L271.4,158.0 L270.2,158.9 L269.0,159.8 L267.8,160.6 L266.6,161.5 L265.3,162.3 L264.1,163.1 L262.9,163.9 L261.6,164.7 L260.3,165.4 L259.0,166.2 L257.7,166.9 L256.4,167.6 L255.0,168.2 L253.7,168.9 L252.3,169.5 L250.9,170.1 L251.2,171.0 L252.7,170.2 L254.3,169.3 L255.9,168.5 L257.5,167.7 L259.1,167.0 L260.8,166.2 L262.4,165.4 L264.0,164.7 L265.6,164.0 L267.3,163.3 L268.9,162.6 L270.5,162.0 L272.2,161.3 L273.9,160.7 L275.5,160.1 L277.2,159.5 L278.8,159.0 L280.5,158.5 L282.2,157.9 L283.9,157.5 L285.6,157.0 L287.3,156.5 L289.0,156.1 L290.7,155.7 L292.4,155.4 L294.1,155.0 L295.9,154.7 L297.6,154.4 L299.4,154.1 L301.1,153.9 L302.8,153.7 L304.6,153.5 L306.4,153.3 L308.1,153.1 L309.9,153.0 L311.7,152.8 L313.4,152.7 L315.2,152.6 L317.0,152.5 L318.8,152.5 L320.6,152.4 L322.4,152.3 L324.1,152.3 L325.9,152.3 L327.7,152.2 L329.5,152.2 L331.3,152.2 L333.1,152.1 L334.8,152.1 L336.6,152.1 L338.4,152.0 L340.2,152.0 L341.9,152.0 L343.7,151.9 L345.5,151.9 L347.2,151.8 L349.0,151.7 L350.7,151.6 L352.5,151.5 L352.5,151.6 L351.9,150.9 L351.2,150.1 L350.6,149.4 L350.0,148.7 L349.3,148.0 L348.7,147.3 L348.0,146.6 L347.4,145.8 L346.7,145.1 L346.0,144.4 L345.4,143.8 L344.7,143.1 L344.0,142.4 L343.3,141.7 L342.7,141.0 L342.0,140.3 L341.3,139.6 L340.6,139.0 L339.9,138.3 L339.2,137.6 L338.6,136.9 L337.9,136.2 L337.2,135.6 L336.5,134.9 L335.8,134.2 L335.1,133.6 L334.4,132.9 L333.7,132.2 L333.0,131.5 L332.3,130.9 L331.6,130.2 L330.9,129.5 L330.3,128.8 L329.6,128.2 L328.9,127.5 L328.2,126.8 L327.5,126.1 L326.8,125.4 L326.2,124.7 L325.5,124.1 L324.8,123.4 L324.1,122.7 L323.5,122.0 L322.8,121.3 L322.2,120.6 L321.5,119.9 L320.8,119.2 L320.2,118.4 L319.6,117.7 L318.9,117.0 L318.3,116.3 L317.7,115.6 L317.0,114.8 L316.4,114.1 L315.8,113.3 L315.2,112.6 L314.6,111.8 L314.0,111.1 L313.4,110.3Z" fill="#4030a8" fill-opacity="0.75" stroke="#4030a8" stroke-opacity="0.6" stroke-width="0.8"/>
<path d="M262,165 Q252,170 246,175 Q238,182 232,192" fill="none" stroke="#7a50a8" stroke-opacity="0.2" stroke-width="3" filter="url(#b2)"/>
<path d="M250,172 Q238,182 228,198" fill="none" stroke="#9a68b8" stroke-opacity="0.18" stroke-width="10" filter="url(#b4)"/>
</g>
<g clip-path="url(#cPink)">
<path d="M358,156 Q380,164 400,190" fill="none" stroke="#90507c" stroke-opacity="0.24" stroke-width="15" filter="url(#b4)"/>
<path d="M352.5,151.6 Q364,154 374,158.3 Q383,162 392,167" fill="none" stroke="url(#gCrease)" stroke-width="2.2" filter="url(#b1)"/>
</g>
<line x1="409.1" y1="145.5" x2="409.1" y2="169.5" stroke="#14144c" stroke-opacity="0.95" stroke-width="1.3"/>
<line x1="409.1" y1="169.5" x2="409.1" y2="228.5" stroke="#4c1040" stroke-opacity="0.95" stroke-width="1.3"/>
<line x1="409.1" y1="228.5" x2="409.1" y2="337" stroke="#7a1212" stroke-opacity="0.95" stroke-width="1.3"/>
<line x1="69.7" y1="45.9" x2="69.7" y2="387" stroke="#000" stroke-width="1.4" />
<path d="M409.5,227.4 L410.8,227.8 L412.1,228.3 L413.3,228.8 L414.6,229.3 L415.9,229.8 L417.1,230.4 L418.4,230.9 L419.6,231.6 L420.8,232.2 L422.1,232.8 L423.3,233.5 L424.5,234.2 L425.7,234.9 L426.9,235.6 L428.2,236.3 L429.4,237.0 L430.6,237.7 L431.8,238.5 L433.0,239.2 L434.2,239.9 L435.5,240.7 L436.7,241.4 L437.9,242.2 L439.1,242.9 L440.4,243.6 L441.6,244.3 L442.8,245.0 L444.1,245.7 L445.3,246.3 L446.6,247.0 L447.9,247.7 L449.1,248.3 L450.4,248.9 L451.7,249.5 L452.9,250.1 L454.2,250.6 L455.5,251.2 L456.8,251.7 L458.1,252.2 L459.4,252.7 L460.7,253.1 L462.0,253.6 L463.3,254.0 L464.7,254.4 L466.0,254.8 L467.3,255.1 L468.7,255.4 L470.0,255.7 L471.3,256.0 L472.7,256.2 L474.0,256.4 L475.4,256.6 L476.8,256.7 L478.1,256.8 L479.5,256.9 L480.9,257.0 L482.3,257.0 L483.7,257.0 L485.1,257.0 L486.4,256.9 L487.8,256.8 L489.2,256.8 L490.6,256.7 L492.0,256.5 L493.5,256.4 L494.9,256.2 L496.3,256.1 L497.7,255.9 L499.1,255.7 L500.5,255.5 L501.9,255.2 L503.3,255.0 L504.7,254.8 L506.2,254.5 L507.6,254.3 L509.0,254.0 L510.4,253.8 L511.8,253.5 L513.2,253.3 L514.6,253.0 L516.0,252.8 L517.4,252.5 L518.8,252.3 L520.2,252.0 L521.6,251.8 L523.0,251.6 L524.4,251.4 L525.8,251.2 L527.2,251.0 L528.6,250.8 L529.9,250.6 L531.3,250.5 L532.7,250.3 L534.0,250.2 L535.4,250.1 L536.8,250.0 L538.1,250.0 L539.4,249.9 L540.8,249.9" fill="none" stroke="#14861a" stroke-width="4.8" stroke-linecap="round"/>
<path d="M409.5,227.4 L410.8,227.8 L412.1,228.3 L413.3,228.8 L414.6,229.3 L415.9,229.8 L417.1,230.4 L418.4,230.9 L419.6,231.6 L420.8,232.2 L422.1,232.8 L423.3,233.5 L424.5,234.2 L425.7,234.9 L426.9,235.6 L428.2,236.3 L429.4,237.0 L430.6,237.7 L431.8,238.5 L433.0,239.2 L434.2,239.9 L435.5,240.7 L436.7,241.4 L437.9,242.2 L439.1,242.9 L440.4,243.6 L441.6,244.3 L442.8,245.0 L444.1,245.7 L445.3,246.3 L446.6,247.0 L447.9,247.7 L449.1,248.3 L450.4,248.9 L451.7,249.5 L452.9,250.1 L454.2,250.6 L455.5,251.2 L456.8,251.7 L458.1,252.2 L459.4,252.7 L460.7,253.1 L462.0,253.6 L463.3,254.0 L464.7,254.4 L466.0,254.8 L467.3,255.1 L468.7,255.4 L470.0,255.7 L471.3,256.0 L472.7,256.2 L474.0,256.4 L475.4,256.6 L476.8,256.7 L478.1,256.8 L479.5,256.9 L480.9,257.0 L482.3,257.0 L483.7,257.0 L485.1,257.0 L486.4,256.9 L487.8,256.8 L489.2,256.8 L490.6,256.7 L492.0,256.5 L493.5,256.4 L494.9,256.2 L496.3,256.1 L497.7,255.9 L499.1,255.7 L500.5,255.5 L501.9,255.2 L503.3,255.0 L504.7,254.8 L506.2,254.5 L507.6,254.3 L509.0,254.0 L510.4,253.8 L511.8,253.5 L513.2,253.3 L514.6,253.0 L516.0,252.8 L517.4,252.5 L518.8,252.3 L520.2,252.0 L521.6,251.8 L523.0,251.6 L524.4,251.4 L525.8,251.2 L527.2,251.0 L528.6,250.8 L529.9,250.6 L531.3,250.5 L532.7,250.3 L534.0,250.2 L535.4,250.1 L536.8,250.0 L538.1,250.0 L539.4,249.9 L540.8,249.9" fill="none" stroke="#4cc83c" stroke-width="2.8" stroke-linecap="round"/>
<path d="M68.1,265.2 L69.6,265.3 L71.0,265.4 L72.4,265.6 L73.7,265.9 L75.1,266.2 L76.5,266.6 L77.8,267.0 L79.1,267.5 L80.4,268.0 L81.7,268.5 L83.0,269.1 L84.2,269.7 L85.5,270.3 L86.8,270.9 L88.0,271.6 L89.3,272.3 L90.5,273.0 L91.7,273.8 L93.0,274.5 L94.2,275.3 L95.4,276.1 L96.6,276.8 L97.9,277.6 L99.1,278.4 L100.3,279.2 L101.6,279.9 L102.8,280.7 L104.0,281.4 L105.3,282.2 L106.5,282.9 L107.8,283.6 L109.1,284.3 L110.3,285.0 L111.6,285.6 L112.9,286.3 L114.2,286.9 L115.5,287.5 L116.8,288.1 L118.1,288.6 L119.4,289.1 L120.7,289.6 L122.0,290.1 L123.3,290.6 L124.7,291.0 L126.0,291.4 L127.3,291.8 L128.7,292.1 L130.0,292.4 L131.4,292.7 L132.8,292.9 L134.1,293.1 L135.5,293.3 L136.9,293.4 L138.3,293.5 L139.7,293.5 L141.1,293.6 L142.5,293.6 L143.9,293.5 L145.3,293.5 L146.7,293.4 L148.1,293.3 L149.5,293.2 L151.0,293.0 L152.4,292.9 L153.8,292.7 L155.3,292.5 L156.7,292.3 L158.1,292.1 L159.6,291.9 L161.0,291.6 L162.4,291.4 L163.9,291.2 L165.3,290.9 L166.8,290.7 L168.2,290.4 L169.6,290.2 L171.1,289.9 L172.5,289.7 L174.0,289.5 L175.4,289.3 L176.8,289.1 L178.3,288.9 L179.7,288.7 L181.1,288.5 L182.6,288.4 L184.0,288.2 L185.4,288.1 L186.8,288.1 L188.2,288.0 L189.6,288.0 L191.1,288.0 L192.5,288.0 L193.8,288.0 L195.2,288.1 L196.6,288.2 L198.0,288.4 L199.4,288.6 L200.7,288.8 L202.1,289.1" fill="none" stroke="#00ac14" stroke-width="6.4" stroke-linecap="round"/>
<path d="M68.1,265.2 L69.6,265.3 L71.0,265.4 L72.4,265.6 L73.7,265.9 L75.1,266.2 L76.5,266.6 L77.8,267.0 L79.1,267.5 L80.4,268.0 L81.7,268.5 L83.0,269.1 L84.2,269.7 L85.5,270.3 L86.8,270.9 L88.0,271.6 L89.3,272.3 L90.5,273.0 L91.7,273.8 L93.0,274.5 L94.2,275.3 L95.4,276.1 L96.6,276.8 L97.9,277.6 L99.1,278.4 L100.3,279.2 L101.6,279.9 L102.8,280.7 L104.0,281.4 L105.3,282.2 L106.5,282.9 L107.8,283.6 L109.1,284.3 L110.3,285.0 L111.6,285.6 L112.9,286.3 L114.2,286.9 L115.5,287.5 L116.8,288.1 L118.1,288.6 L119.4,289.1 L120.7,289.6 L122.0,290.1 L123.3,290.6 L124.7,291.0 L126.0,291.4 L127.3,291.8 L128.7,292.1 L130.0,292.4 L131.4,292.7 L132.8,292.9 L134.1,293.1 L135.5,293.3 L136.9,293.4 L138.3,293.5 L139.7,293.5 L141.1,293.6 L142.5,293.6 L143.9,293.5 L145.3,293.5 L146.7,293.4 L148.1,293.3 L149.5,293.2 L151.0,293.0 L152.4,292.9 L153.8,292.7 L155.3,292.5 L156.7,292.3 L158.1,292.1 L159.6,291.9 L161.0,291.6 L162.4,291.4 L163.9,291.2 L165.3,290.9 L166.8,290.7 L168.2,290.4 L169.6,290.2 L171.1,289.9 L172.5,289.7 L174.0,289.5 L175.4,289.3 L176.8,289.1 L178.3,288.9 L179.7,288.7 L181.1,288.5 L182.6,288.4 L184.0,288.2 L185.4,288.1 L186.8,288.1 L188.2,288.0 L189.6,288.0 L191.1,288.0 L192.5,288.0 L193.8,288.0 L195.2,288.1 L196.6,288.2 L198.0,288.4 L199.4,288.6 L200.7,288.8 L202.1,289.1" fill="none" stroke="#04ea20" stroke-width="4.9" stroke-linecap="round" transform="translate(0,-0.6)"/>
<path d="M68.1,265.2 L69.6,265.3 L71.0,265.4 L72.4,265.6 L73.7,265.9 L75.1,266.2 L76.5,266.6 L77.8,267.0 L79.1,267.5 L80.4,268.0 L81.7,268.5 L83.0,269.1 L84.2,269.7 L85.5,270.3 L86.8,270.9 L88.0,271.6 L89.3,272.3 L90.5,273.0 L91.7,273.8 L93.0,274.5 L94.2,275.3 L95.4,276.1 L96.6,276.8 L97.9,277.6 L99.1,278.4 L100.3,279.2 L101.6,279.9 L102.8,280.7 L104.0,281.4 L105.3,282.2 L106.5,282.9 L107.8,283.6 L109.1,284.3 L110.3,285.0 L111.6,285.6 L112.9,286.3 L114.2,286.9 L115.5,287.5 L116.8,288.1 L118.1,288.6 L119.4,289.1 L120.7,289.6 L122.0,290.1 L123.3,290.6 L124.7,291.0 L126.0,291.4 L127.3,291.8 L128.7,292.1 L130.0,292.4 L131.4,292.7 L132.8,292.9 L134.1,293.1 L135.5,293.3 L136.9,293.4 L138.3,293.5 L139.7,293.5 L141.1,293.6 L142.5,293.6 L143.9,293.5 L145.3,293.5 L146.7,293.4 L148.1,293.3 L149.5,293.2 L151.0,293.0 L152.4,292.9 L153.8,292.7 L155.3,292.5 L156.7,292.3 L158.1,292.1 L159.6,291.9 L161.0,291.6 L162.4,291.4 L163.9,291.2 L165.3,290.9 L166.8,290.7 L168.2,290.4 L169.6,290.2 L171.1,289.9 L172.5,289.7 L174.0,289.5 L175.4,289.3 L176.8,289.1 L178.3,288.9 L179.7,288.7 L181.1,288.5 L182.6,288.4 L184.0,288.2 L185.4,288.1 L186.8,288.1 L188.2,288.0 L189.6,288.0 L191.1,288.0 L192.5,288.0 L193.8,288.0 L195.2,288.1 L196.6,288.2 L198.0,288.4 L199.4,288.6 L200.7,288.8 L202.1,289.1" fill="none" stroke="#50ff60" stroke-width="1.4" stroke-linecap="round" transform="translate(0,-1.2)"/>
<circle cx="72.5" cy="262.8" r="2.07" fill="url(#mw)"/>
<circle cx="75.5" cy="262.3" r="2.09" fill="url(#mw)"/>
<circle cx="78.6" cy="261.8" r="2.12" fill="url(#mw)"/>
<circle cx="81.6" cy="261.3" r="2.14" fill="url(#mw)"/>
<circle cx="84.7" cy="260.8" r="2.17" fill="url(#mw)"/>
<circle cx="87.7" cy="260.2" r="2.19" fill="url(#mw)"/>
<circle cx="90.8" cy="259.6" r="2.22" fill="url(#mw)"/>
<circle cx="93.8" cy="258.9" r="2.24" fill="url(#mw)"/>
<circle cx="96.9" cy="258.1" r="2.27" fill="url(#mw)"/>
<circle cx="99.9" cy="257.3" r="2.29" fill="url(#mw)"/>
<circle cx="103.0" cy="256.2" r="2.31" fill="url(#mw)"/>
<circle cx="106.0" cy="255.0" r="2.34" fill="url(#mv)"/>
<circle cx="109.1" cy="253.7" r="2.36" fill="url(#mv)"/>
<circle cx="112.1" cy="252.2" r="2.39" fill="url(#mv)"/>
<circle cx="115.2" cy="250.5" r="2.41" fill="url(#mv)"/>
<circle cx="118.2" cy="248.6" r="2.44" fill="url(#mv)"/>
<circle cx="121.3" cy="246.6" r="2.46" fill="url(#mv)"/>
<circle cx="124.3" cy="244.5" r="2.47" fill="url(#mv)"/>
<circle cx="127.4" cy="242.2" r="2.48" fill="url(#mv)"/>
<circle cx="130.4" cy="239.9" r="2.50" fill="url(#mv)"/>
<circle cx="133.5" cy="237.4" r="2.51" fill="url(#mv)"/>
<circle cx="136.5" cy="234.8" r="2.52" fill="url(#mv)"/>
<circle cx="139.6" cy="232.2" r="2.54" fill="url(#mv)"/>
<circle cx="142.7" cy="229.5" r="2.55" fill="url(#mv)"/>
<circle cx="145.7" cy="226.6" r="2.56" fill="url(#mv)"/>
<circle cx="148.8" cy="223.7" r="2.58" fill="url(#mv)"/>
<circle cx="151.8" cy="220.7" r="2.59" fill="url(#mv)"/>
<circle cx="154.9" cy="217.5" r="2.60" fill="url(#mv)"/>
<circle cx="157.9" cy="214.3" r="2.62" fill="url(#mv)"/>
<circle cx="161.0" cy="211.0" r="2.63" fill="url(#mv)"/>
<circle cx="164.0" cy="207.5" r="2.64" fill="url(#mv)"/>
<circle cx="167.1" cy="203.9" r="2.66" fill="url(#mv)"/>
<circle cx="170.1" cy="200.2" r="2.67" fill="url(#mv)"/>
<circle cx="173.2" cy="196.4" r="2.68" fill="url(#mv)"/>
<circle cx="176.2" cy="192.4" r="2.70" fill="url(#mv)"/>
<circle cx="179.3" cy="188.3" r="2.71" fill="url(#mv)"/>
<circle cx="182.3" cy="184.1" r="2.72" fill="url(#mv)"/>
<circle cx="185.4" cy="179.7" r="2.74" fill="url(#mv)"/>
<circle cx="188.4" cy="175.2" r="2.75" fill="url(#mv)"/>
<circle cx="191.5" cy="170.5" r="2.76" fill="url(#mv)"/>
<circle cx="194.5" cy="165.6" r="2.78" fill="url(#mv)"/>
<circle cx="197.6" cy="160.7" r="2.79" fill="url(#mv)"/>
<circle cx="200.6" cy="155.7" r="2.80" fill="url(#mv)"/>
<circle cx="203.9" cy="150.6" r="2.80" fill="url(#mv)"/>
<circle cx="207.1" cy="145.7" r="2.80" fill="url(#mv)"/>
<circle cx="210.4" cy="141.1" r="2.80" fill="url(#mv)"/>
<circle cx="213.6" cy="136.8" r="2.80" fill="url(#mv)"/>
<circle cx="216.9" cy="132.9" r="2.80" fill="url(#mv)"/>
<circle cx="220.1" cy="129.3" r="2.80" fill="url(#mv)"/>
<circle cx="223.4" cy="126.1" r="2.80" fill="url(#mv)"/>
<circle cx="226.6" cy="123.2" r="2.80" fill="url(#mv)"/>
<circle cx="229.9" cy="120.9" r="2.80" fill="url(#mv)"/>
<circle cx="233.1" cy="119.1" r="2.80" fill="url(#mv)"/>
<circle cx="236.4" cy="118.1" r="2.80" fill="url(#mv)"/>
<circle cx="239.6" cy="117.7" r="2.80" fill="url(#mv)"/>
<circle cx="242.9" cy="117.8" r="2.80" fill="url(#mv)"/>
<circle cx="246.1" cy="118.4" r="2.80" fill="url(#mv)"/>
<circle cx="249.4" cy="119.5" r="2.80" fill="url(#mv)"/>
<circle cx="252.6" cy="121.0" r="2.80" fill="url(#mv)"/>
<circle cx="255.9" cy="123.0" r="2.80" fill="url(#mv)"/>
<circle cx="259.1" cy="125.4" r="2.80" fill="url(#mv)"/>
<circle cx="262.4" cy="128.4" r="2.80" fill="url(#mv)"/>
<circle cx="265.6" cy="131.8" r="2.80" fill="url(#mv)"/>
<circle cx="268.9" cy="135.5" r="2.80" fill="url(#mv)"/>
<circle cx="272.1" cy="139.6" r="2.80" fill="url(#mv)"/>
<circle cx="275.4" cy="143.9" r="2.80" fill="url(#mv)"/>
<circle cx="278.6" cy="148.2" r="2.80" fill="url(#mv)"/>
<circle cx="281.9" cy="152.4" r="2.80" fill="url(#mv)"/>
<circle cx="285.1" cy="156.6" r="2.80" fill="url(#mv)"/>
<circle cx="288.4" cy="160.6" r="2.80" fill="url(#mv)"/>
<circle cx="291.6" cy="164.7" r="2.80" fill="url(#mv)"/>
<circle cx="294.9" cy="168.6" r="2.80" fill="url(#mv)"/>
<circle cx="298.1" cy="172.5" r="2.80" fill="url(#mv)"/>
<circle cx="301.4" cy="176.3" r="2.80" fill="url(#mv)"/>
<circle cx="304.6" cy="180.0" r="2.80" fill="url(#mv)"/>
<circle cx="307.9" cy="183.6" r="2.80" fill="url(#mv)"/>
<circle cx="311.1" cy="187.1" r="2.80" fill="url(#mv)"/>
<circle cx="314.4" cy="190.5" r="2.80" fill="url(#mv)"/>
<circle cx="317.6" cy="193.5" r="2.80" fill="url(#mv)"/>
<circle cx="320.9" cy="196.3" r="2.80" fill="url(#mp)"/>
<circle cx="324.1" cy="198.8" r="2.59" fill="url(#mp)"/>
<circle cx="327.4" cy="201.0" r="2.58" fill="url(#mp)"/>
<circle cx="330.6" cy="203.1" r="2.57" fill="url(#mp)"/>
<circle cx="333.9" cy="205.2" r="2.56" fill="url(#mp)"/>
<circle cx="337.1" cy="207.3" r="2.55" fill="url(#mp)"/>
<circle cx="340.4" cy="209.5" r="2.53" fill="url(#mp)"/>
<circle cx="343.6" cy="211.8" r="2.52" fill="url(#mp)"/>
<circle cx="346.9" cy="214.0" r="2.51" fill="url(#mp)"/>
<circle cx="350.1" cy="216.2" r="2.50" fill="url(#mp)"/>
<circle cx="353.4" cy="218.3" r="2.49" fill="url(#mp)"/>
<circle cx="356.6" cy="220.2" r="2.48" fill="url(#mp)"/>
<circle cx="359.9" cy="222.0" r="2.47" fill="url(#mp)"/>
<circle cx="363.1" cy="223.6" r="2.46" fill="url(#mp)"/>
<circle cx="366.4" cy="224.9" r="2.45" fill="url(#mp)"/>
<circle cx="369.6" cy="226.1" r="2.43" fill="url(#mp)"/>
<circle cx="372.9" cy="227.0" r="2.42" fill="url(#mp)"/>
<circle cx="376.1" cy="227.7" r="2.41" fill="url(#mp)"/>
<circle cx="379.4" cy="228.3" r="2.40" fill="url(#mp)"/>
<circle cx="382.6" cy="228.7" r="2.39" fill="url(#mp)"/>
<circle cx="385.9" cy="229.0" r="2.38" fill="url(#mp)"/>
<circle cx="389.1" cy="229.2" r="2.37" fill="url(#mp)"/>
<circle cx="392.4" cy="229.3" r="2.36" fill="url(#mp)"/>
<circle cx="395.6" cy="229.3" r="2.35" fill="url(#mp)"/>
<circle cx="398.9" cy="229.2" r="2.33" fill="url(#mp)"/>
<circle cx="402.1" cy="229.1" r="2.32" fill="url(#mp)"/>
<circle cx="405.4" cy="229.0" r="2.31" fill="url(#mp)"/>
<path d="M313.6,110.5 L312.8,111.7 L311.9,112.9 L311.0,114.0 L310.2,115.2 L309.3,116.4 L308.4,117.6 L307.5,118.8 L306.7,120.0 L305.8,121.2 L304.9,122.4 L304.0,123.5 L303.1,124.7 L302.2,125.9 L301.3,127.1 L300.3,128.3 L299.4,129.4 L298.5,130.6 L297.5,131.7 L296.6,132.9 L295.6,134.1 L294.7,135.2 L293.7,136.3 L292.7,137.5 L291.8,138.6 L290.8,139.7 L289.8,140.8 L288.8,141.9 L287.8,143.0 L286.7,144.1 L285.7,145.1 L284.7,146.2 L283.6,147.3 L282.5,148.3 L281.5,149.3 L280.4,150.3 L279.3,151.4 L278.2,152.3 L277.1,153.3 L276.0,154.3 L274.8,155.2 L273.7,156.2 L272.5,157.1 L271.4,158.0 L270.2,158.9 L269.0,159.8 L267.8,160.6 L266.6,161.5 L265.3,162.3 L264.1,163.1 L262.9,163.9 L261.6,164.7 L260.3,165.4 L259.0,166.2 L257.7,166.9 L256.4,167.6 L255.0,168.2 L253.7,168.9 L252.3,169.5 L250.9,170.1 L251.2,171.0 L252.7,170.2 L254.3,169.3 L255.9,168.5 L257.5,167.7 L259.1,167.0 L260.8,166.2 L262.4,165.4 L264.0,164.7 L265.6,164.0 L267.3,163.3 L268.9,162.6 L270.5,162.0 L272.2,161.3 L273.9,160.7 L275.5,160.1 L277.2,159.5 L278.8,159.0 L280.5,158.5 L282.2,157.9 L283.9,157.5 L285.6,157.0 L287.3,156.5 L289.0,156.1 L290.7,155.7 L292.4,155.4 L294.1,155.0 L295.9,154.7 L297.6,154.4 L299.4,154.1 L301.1,153.9 L302.8,153.7 L304.6,153.5 L306.4,153.3 L308.1,153.1 L309.9,153.0 L311.7,152.8 L313.4,152.7 L315.2,152.6 L317.0,152.5 L318.8,152.5 L320.6,152.4 L322.4,152.3 L324.1,152.3 L325.9,152.3 L327.7,152.2 L329.5,152.2 L331.3,152.2 L333.1,152.1 L334.8,152.1 L336.6,152.1 L338.4,152.0 L340.2,152.0 L341.9,152.0 L343.7,151.9 L345.5,151.9 L347.2,151.8 L349.0,151.7 L350.7,151.6 L352.5,151.5 L352.5,151.6 L351.9,150.9 L351.2,150.1 L350.6,149.4 L350.0,148.7 L349.3,148.0 L348.7,147.3 L348.0,146.6 L347.4,145.8 L346.7,145.1 L346.0,144.4 L345.4,143.8 L344.7,143.1 L344.0,142.4 L343.3,141.7 L342.7,141.0 L342.0,140.3 L341.3,139.6 L340.6,139.0 L339.9,138.3 L339.2,137.6 L338.6,136.9 L337.9,136.2 L337.2,135.6 L336.5,134.9 L335.8,134.2 L335.1,133.6 L334.4,132.9 L333.7,132.2 L333.0,131.5 L332.3,130.9 L331.6,130.2 L330.9,129.5 L330.3,128.8 L329.6,128.2 L328.9,127.5 L328.2,126.8 L327.5,126.1 L326.8,125.4 L326.2,124.7 L325.5,124.1 L324.8,123.4 L324.1,122.7 L323.5,122.0 L322.8,121.3 L322.2,120.6 L321.5,119.9 L320.8,119.2 L320.2,118.4 L319.6,117.7 L318.9,117.0 L318.3,116.3 L317.7,115.6 L317.0,114.8 L316.4,114.1 L315.8,113.3 L315.2,112.6 L314.6,111.8 L314.0,111.1 L313.4,110.3Z" fill="#2828b0" fill-opacity="0.4"/>
<circle cx="207.0" cy="288.1" r="2.22" fill="url(#mw)"/>
<circle cx="210.2" cy="287.3" r="2.25" fill="url(#mw)"/>
<circle cx="213.4" cy="286.4" r="2.27" fill="url(#mw)"/>
<circle cx="216.6" cy="285.5" r="2.30" fill="url(#mw)"/>
<circle cx="219.8" cy="284.5" r="2.32" fill="url(#mw)"/>
<circle cx="223.0" cy="283.4" r="2.34" fill="url(#mw)"/>
<circle cx="226.2" cy="282.3" r="2.37" fill="url(#mw)"/>
<circle cx="229.4" cy="281.2" r="2.39" fill="url(#mw)"/>
<circle cx="232.6" cy="279.9" r="2.42" fill="url(#mw)"/>
<circle cx="235.8" cy="278.6" r="2.44" fill="url(#mw)"/>
<circle cx="239.0" cy="277.2" r="2.47" fill="url(#mw)"/>
<circle cx="242.2" cy="275.7" r="2.49" fill="url(#mw)"/>
<circle cx="245.4" cy="274.1" r="2.51" fill="url(#mw)"/>
<circle cx="248.6" cy="272.4" r="2.54" fill="url(#mw)"/>
<circle cx="251.8" cy="270.6" r="2.56" fill="url(#mw)"/>
<circle cx="255.0" cy="268.7" r="2.59" fill="url(#mw)"/>
<circle cx="258.2" cy="266.5" r="2.61" fill="url(#mw)"/>
<circle cx="261.4" cy="264.3" r="2.63" fill="url(#mw)"/>
<circle cx="264.8" cy="261.6" r="2.66" fill="url(#ms)"/>
<circle cx="268.3" cy="258.7" r="2.69" fill="url(#ms)"/>
<circle cx="271.7" cy="255.6" r="2.85" fill="url(#ms)"/>
<circle cx="275.2" cy="252.3" r="2.85" fill="url(#ms)"/>
<circle cx="278.6" cy="248.9" r="2.85" fill="url(#ms)"/>
<circle cx="282.1" cy="245.3" r="2.85" fill="url(#ms)"/>
<circle cx="285.5" cy="241.6" r="2.85" fill="url(#ms)"/>
<circle cx="289.0" cy="237.9" r="2.85" fill="url(#ms)"/>
<circle cx="292.4" cy="234.1" r="2.85" fill="url(#ms)"/>
<circle cx="295.9" cy="230.3" r="2.85" fill="url(#ms)"/>
<circle cx="299.3" cy="226.3" r="2.85" fill="url(#ms)"/>
<circle cx="302.8" cy="222.1" r="2.85" fill="url(#ms)"/>
<circle cx="306.2" cy="217.8" r="2.85" fill="url(#ms)"/>
<circle cx="309.7" cy="213.3" r="2.85" fill="url(#ms)"/>
<circle cx="313.1" cy="208.5" r="2.85" fill="url(#ms)"/>
<circle cx="316.6" cy="203.6" r="2.85" fill="url(#ms)"/>
<circle cx="320.0" cy="198.6" r="2.85" fill="url(#ms)"/>
<circle cx="323.5" cy="193.4" r="2.85" fill="url(#ms)"/>
<circle cx="326.9" cy="188.2" r="2.85" fill="url(#ms)"/>
<circle cx="330.4" cy="182.9" r="2.85" fill="url(#ms)"/>
<circle cx="333.8" cy="177.6" r="2.85" fill="url(#ms)"/>
<circle cx="337.3" cy="172.4" r="2.85" fill="url(#ms)"/>
<circle cx="340.7" cy="167.3" r="2.85" fill="url(#ms)"/>
<circle cx="344.2" cy="162.2" r="2.85" fill="url(#ms)"/>
<circle cx="347.6" cy="157.4" r="2.85" fill="url(#ms)"/>
<circle cx="351.1" cy="153.0" r="2.85" fill="url(#ms)"/>
<circle cx="354.5" cy="149.2" r="2.85" fill="url(#ms)"/>
<circle cx="358.0" cy="146.2" r="2.85" fill="url(#ms)"/>
<circle cx="361.4" cy="143.9" r="2.85" fill="url(#ms)"/>
<circle cx="364.9" cy="142.4" r="2.85" fill="url(#ms)"/>
<circle cx="368.3" cy="141.4" r="2.85" fill="url(#ms)"/>
<circle cx="371.8" cy="141.0" r="2.85" fill="url(#ms)"/>
<circle cx="375.2" cy="141.1" r="2.85" fill="url(#ms)"/>
<circle cx="378.7" cy="141.7" r="2.85" fill="url(#ms)"/>
<circle cx="382.1" cy="142.8" r="2.85" fill="url(#ms)"/>
<circle cx="385.6" cy="144.5" r="2.85" fill="url(#ms)"/>
<circle cx="389.0" cy="146.9" r="2.85" fill="url(#ms)"/>
<circle cx="392.5" cy="150.0" r="2.85" fill="url(#ms)"/>
<circle cx="395.9" cy="153.7" r="2.85" fill="url(#ms)"/>
<circle cx="399.4" cy="157.8" r="2.85" fill="url(#ms)"/>
<circle cx="402.8" cy="162.1" r="2.85" fill="url(#ms)"/>
<circle cx="406.3" cy="166.3" r="2.85" fill="url(#ms)"/>
<circle cx="409.7" cy="170.5" r="2.85" fill="url(#ms)"/>
<circle cx="413.2" cy="174.7" r="2.85" fill="url(#ms)"/>
<circle cx="416.6" cy="178.9" r="2.85" fill="url(#ms)"/>
<circle cx="420.1" cy="183.0" r="2.85" fill="url(#ms)"/>
<circle cx="423.5" cy="187.2" r="2.85" fill="url(#ms)"/>
<circle cx="427.0" cy="191.4" r="2.85" fill="url(#ms)"/>
<circle cx="430.4" cy="195.5" r="2.85" fill="url(#ms)"/>
<circle cx="433.9" cy="199.7" r="2.85" fill="url(#ms)"/>
<circle cx="437.3" cy="203.7" r="2.85" fill="url(#ms)"/>
<circle cx="440.8" cy="207.6" r="2.85" fill="url(#ms)"/>
<circle cx="444.2" cy="211.4" r="2.85" fill="url(#ms)"/>
<circle cx="447.7" cy="215.0" r="2.85" fill="url(#ms)"/>
<circle cx="451.1" cy="218.5" r="2.85" fill="url(#ms)"/>
<circle cx="454.6" cy="221.7" r="2.84" fill="url(#ms)"/>
<circle cx="458.0" cy="224.7" r="2.83" fill="url(#ms)"/>
<circle cx="461.5" cy="227.6" r="2.82" fill="url(#ms)"/>
<circle cx="464.9" cy="230.3" r="2.81" fill="url(#ms)"/>
<circle cx="468.4" cy="232.7" r="2.80" fill="url(#ms)"/>
<circle cx="471.8" cy="235.0" r="2.79" fill="url(#ms)"/>
<circle cx="475.3" cy="237.2" r="2.78" fill="url(#ms)"/>
<circle cx="478.7" cy="239.2" r="2.77" fill="url(#ms)"/>
<circle cx="482.2" cy="241.0" r="2.76" fill="url(#ms)"/>
<circle cx="485.6" cy="242.7" r="2.75" fill="url(#ms)"/>
<circle cx="489.1" cy="244.2" r="2.74" fill="url(#ms)"/>
<circle cx="492.5" cy="245.7" r="2.73" fill="url(#ms)"/>
<circle cx="496.0" cy="246.9" r="2.72" fill="url(#ms)"/>
<circle cx="499.4" cy="248.1" r="2.71" fill="url(#ms)"/>
<circle cx="502.9" cy="249.1" r="2.70" fill="url(#ms)"/>
<circle cx="506.3" cy="250.0" r="2.69" fill="url(#ms)"/>
<circle cx="509.8" cy="250.8" r="2.68" fill="url(#ms)"/>
<circle cx="513.2" cy="251.4" r="2.67" fill="url(#ms)"/>
<circle cx="516.7" cy="251.9" r="2.66" fill="url(#ms)"/>
<circle cx="520.1" cy="252.3" r="2.66" fill="url(#ms)"/>
<circle cx="523.6" cy="252.6" r="2.65" fill="url(#ms)"/>
<circle cx="527.0" cy="252.7" r="2.64" fill="url(#ms)"/>
<circle cx="530.5" cy="252.7" r="2.63" fill="url(#ms)"/>
<circle cx="533.9" cy="252.6" r="2.62" fill="url(#ms)"/>
<circle cx="537.4" cy="252.4" r="2.61" fill="url(#ms)"/>
<g stroke-linecap="round">
<line x1="69.7" y1="45.9" x2="202.8" y2="69.4" stroke="#000" stroke-width="1.4" />
<line x1="202.8" y1="69.4" x2="541.4" y2="32.5" stroke="#000" stroke-width="1.4" />
<line x1="69.7" y1="387" x2="203.2" y2="410.1" stroke="#000" stroke-width="1.4" />
<line x1="203.2" y1="410.1" x2="541.4" y2="373.6" stroke="#000" stroke-width="1.4" />
<line x1="202.8" y1="69.4" x2="203.2" y2="410.1" stroke="#000" stroke-width="1.4" />
<line x1="541.4" y1="32.5" x2="541.4" y2="373.6" stroke="#000" stroke-width="1.4" />
<line x1="63.8" y1="45.9" x2="69.7" y2="45.9" stroke="#000" stroke-width="1.4" />
<line x1="63.8" y1="89.3" x2="69.7" y2="89.3" stroke="#000" stroke-width="1.4" />
<line x1="63.8" y1="133.9" x2="69.7" y2="133.9" stroke="#000" stroke-width="1.4" />
<line x1="63.8" y1="177.3" x2="69.7" y2="177.3" stroke="#000" stroke-width="1.4" />
<line x1="63.8" y1="220.1" x2="69.7" y2="220.1" stroke="#000" stroke-width="1.4" />
<line x1="63.8" y1="262.7" x2="69.7" y2="262.7" stroke="#000" stroke-width="1.4" />
<line x1="63.8" y1="304.9" x2="69.7" y2="304.9" stroke="#000" stroke-width="1.4" />
<line x1="63.8" y1="345.8" x2="69.7" y2="345.8" stroke="#000" stroke-width="1.4" />
<line x1="63.8" y1="387" x2="69.7" y2="387" stroke="#000" stroke-width="1.4" />
<line x1="136.7" y1="398.7" x2="305.7" y2="380.6" stroke="#000" stroke-width="1.3" />
<line x1="305.7" y1="380.6" x2="371.2" y2="391.7" stroke="#000" stroke-width="1.3" />
</g>
<circle cx="201.4" cy="288.9" r="2.9" fill="url(#gs)"/>
<circle cx="542.4" cy="252.1" r="2.6" fill="url(#gs)"/>
<line x1="305.7" y1="380.6" x2="146.7" y2="400.4" stroke="#f02828" stroke-width="0.7"/>
<line x1="305.7" y1="380.6" x2="157.6" y2="402.3" stroke="#f02828" stroke-width="0.7"/>
<line x1="305.7" y1="380.6" x2="167.6" y2="404.0" stroke="#f02828" stroke-width="0.7"/>
<line x1="305.7" y1="380.6" x2="177.6" y2="405.7" stroke="#f02828" stroke-width="0.7"/>
<line x1="305.7" y1="380.6" x2="187.6" y2="407.4" stroke="#f02828" stroke-width="0.7"/>
<line x1="305.7" y1="380.6" x2="196.5" y2="409.0" stroke="#f02828" stroke-width="0.7"/>
<line x1="305.7" y1="380.6" x2="203.2" y2="410.1" stroke="#f02828" stroke-width="0.7"/>
<line x1="305.7" y1="380.6" x2="218.0" y2="408.5" stroke="#f02828" stroke-width="0.7"/>
<line x1="305.7" y1="380.6" x2="228.0" y2="407.4" stroke="#f02828" stroke-width="0.7"/>
<line x1="305.7" y1="380.6" x2="238.0" y2="406.3" stroke="#f02828" stroke-width="0.7"/>
<line x1="305.7" y1="380.6" x2="247.0" y2="405.3" stroke="#f02828" stroke-width="0.7"/>
<line x1="305.7" y1="380.6" x2="256.0" y2="404.3" stroke="#f02828" stroke-width="0.7"/>
<line x1="305.7" y1="380.6" x2="272.4" y2="402.5" stroke="#f02828" stroke-width="0.7"/>
<line x1="305.7" y1="380.6" x2="304.4" y2="399.0" stroke="#f02828" stroke-width="0.7"/>
<line x1="305.7" y1="380.6" x2="336.2" y2="395.5" stroke="#f02828" stroke-width="0.7"/>
<text x="59.3" y="52.8" font-size="19.1" text-anchor="end" fill="#000">9.1</text>
<text x="59.3" y="96.1" font-size="19.1" text-anchor="end" fill="#000">9.0</text>
<text x="59.3" y="140.8" font-size="19.1" text-anchor="end" fill="#000">8.9</text>
<text x="59.3" y="184.2" font-size="19.1" text-anchor="end" fill="#000">8.8</text>
<text x="59.3" y="226.9" font-size="19.1" text-anchor="end" fill="#000">8.7</text>
<text x="59.3" y="269.6" font-size="19.1" text-anchor="end" fill="#000">8.6</text>
<text x="59.3" y="311.8" font-size="19.1" text-anchor="end" fill="#000">8.5</text>
<text x="59.3" y="352.7" font-size="19.1" text-anchor="end" fill="#000">8.4</text>
<text x="59.3" y="393.9" font-size="19.1" text-anchor="end" fill="#000">8.3</text>
<text transform="translate(25.1,215.6) rotate(-90)" font-size="23.7" text-anchor="middle" fill="#000">Frequency (THz)</text>
<text x="131.2" y="414.5" font-size="18.3" text-anchor="middle">K</text>
<text x="202.6" y="428.6" font-size="18.3" text-anchor="middle">H</text>
<text x="374.5" y="408.6" font-size="18.3" text-anchor="middle">A</text>
<text x="311.2" y="377.6" font-size="18.3" text-anchor="middle">Γ</text>
<text x="146.4" y="413.8" font-size="18" font-weight="bold" fill="#f00000" text-anchor="middle">a</text>
<text x="161.7" y="417.7" font-size="18" font-weight="bold" fill="#f00000" text-anchor="middle">b</text>
<text x="174.6" y="420.5" font-size="18" font-weight="bold" fill="#f00000" text-anchor="middle">c</text>
<text x="187.8" y="423.5" font-size="18" font-weight="bold" fill="#f00000" text-anchor="middle">d</text>
<text x="238" y="420.5" font-size="18" font-weight="bold" fill="#f00000" text-anchor="middle">e</text>
<text x="271.2" y="420.4" font-size="18" font-weight="bold" fill="#f00000" text-anchor="middle">f</text>
<text x="304.6" y="414.1" font-size="18" font-weight="bold" fill="#f00000" text-anchor="middle">g</text>
<text x="338.3" y="412.4" font-size="18" font-weight="bold" fill="#f00000" text-anchor="middle">h</text>
</svg></body></html>
